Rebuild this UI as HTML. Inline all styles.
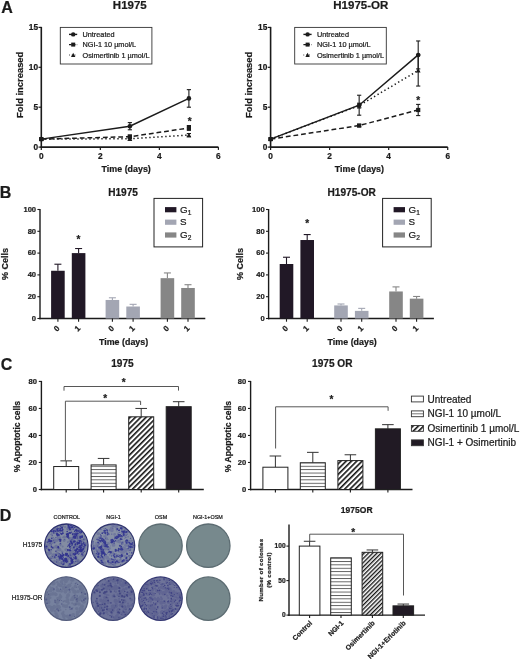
<!DOCTYPE html>
<html><head><meta charset="utf-8"><title>Figure</title>
<style>html,body{margin:0;padding:0;background:#fff;width:520px;height:659px;overflow:hidden}svg{display:block}text{font-family:'Liberation Sans',Arial,sans-serif;stroke:#1b1b1b;stroke-width:0.22px}</style>
</head><body>
<svg width="520" height="659" viewBox="0 0 520 659" style="font-family:'Liberation Sans',Arial,sans-serif"><defs><pattern id="hs" width="4" height="3.4" patternUnits="userSpaceOnUse"><rect width="4" height="3.4" fill="#fff"/><rect y="0" width="4" height="0.9" fill="#555"/></pattern><pattern id="ds2" width="3.0" height="3.0" patternUnits="userSpaceOnUse" patternTransform="rotate(45)"><rect width="3.0" height="3.0" fill="#fff"/><rect x="0" width="1.35" height="3.0" fill="#151515"/></pattern><pattern id="ds" width="3.75" height="3.75" patternUnits="userSpaceOnUse" patternTransform="rotate(45)"><rect width="3.75" height="3.75" fill="#fff"/><rect x="0" width="1.6" height="3.75" fill="#151515"/></pattern></defs><rect width="520" height="659" fill="#fff"/><text x="1.20" y="12.70" font-size="16" font-weight="bold" text-anchor="start" fill="#1b1b1b">A</text>
<text x="-0.30" y="198.40" font-size="16" font-weight="bold" text-anchor="start" fill="#1b1b1b">B</text>
<text x="0.70" y="369.90" font-size="16" font-weight="bold" text-anchor="start" fill="#1b1b1b">C</text>
<text x="-0.20" y="520.60" font-size="16" font-weight="bold" text-anchor="start" fill="#1b1b1b">D</text>
<line x1="41.30" y1="26.90" x2="41.30" y2="147.90" stroke="#1b1b1b" stroke-width="1.6" stroke-linecap="butt"/>
<line x1="40.50" y1="147.10" x2="218.42" y2="147.10" stroke="#1b1b1b" stroke-width="1.6" stroke-linecap="butt"/>
<line x1="38.50" y1="147.10" x2="41.30" y2="147.10" stroke="#1b1b1b" stroke-width="1.2" stroke-linecap="butt"/>
<text x="38.00" y="150.10" font-size="8.3" font-weight="bold" text-anchor="end" fill="#1b1b1b">0</text>
<line x1="38.50" y1="107.20" x2="41.30" y2="107.20" stroke="#1b1b1b" stroke-width="1.2" stroke-linecap="butt"/>
<text x="38.00" y="110.20" font-size="8.3" font-weight="bold" text-anchor="end" fill="#1b1b1b">5</text>
<line x1="38.50" y1="67.30" x2="41.30" y2="67.30" stroke="#1b1b1b" stroke-width="1.2" stroke-linecap="butt"/>
<text x="38.00" y="70.30" font-size="8.3" font-weight="bold" text-anchor="end" fill="#1b1b1b">10</text>
<line x1="38.50" y1="27.40" x2="41.30" y2="27.40" stroke="#1b1b1b" stroke-width="1.2" stroke-linecap="butt"/>
<text x="38.00" y="30.40" font-size="8.3" font-weight="bold" text-anchor="end" fill="#1b1b1b">15</text>
<line x1="41.30" y1="147.10" x2="41.30" y2="149.90" stroke="#1b1b1b" stroke-width="1.2" stroke-linecap="butt"/>
<text x="41.30" y="158.80" font-size="8.3" font-weight="bold" text-anchor="middle" fill="#1b1b1b">0</text>
<line x1="100.34" y1="147.10" x2="100.34" y2="149.90" stroke="#1b1b1b" stroke-width="1.2" stroke-linecap="butt"/>
<text x="100.34" y="158.80" font-size="8.3" font-weight="bold" text-anchor="middle" fill="#1b1b1b">2</text>
<line x1="159.38" y1="147.10" x2="159.38" y2="149.90" stroke="#1b1b1b" stroke-width="1.2" stroke-linecap="butt"/>
<text x="159.38" y="158.80" font-size="8.3" font-weight="bold" text-anchor="middle" fill="#1b1b1b">4</text>
<line x1="218.42" y1="147.10" x2="218.42" y2="149.90" stroke="#1b1b1b" stroke-width="1.2" stroke-linecap="butt"/>
<text x="218.42" y="158.80" font-size="8.3" font-weight="bold" text-anchor="middle" fill="#1b1b1b">6</text>
<text x="129.80" y="8.80" font-size="11.5" font-weight="bold" text-anchor="middle" fill="#1b1b1b">H1975</text>
<text x="23.20" y="84.80" font-size="9.4" font-weight="bold" text-anchor="middle" fill="#1b1b1b" transform="rotate(-90 23.20 84.80)">Fold increased</text>
<text x="126.20" y="172.30" font-size="8.9" font-weight="bold" text-anchor="middle" fill="#1b1b1b">Time (days)</text>
<polyline points="41.30,139.12 129.86,138.72 188.90,135.13" fill="none" stroke="#1b1b1b" stroke-width="1.5" stroke-dasharray="1.4 2.6"/>
<line x1="129.86" y1="137.12" x2="129.86" y2="140.32" stroke="#1b1b1b" stroke-width="1.1" stroke-linecap="butt"/>
<line x1="127.76" y1="137.12" x2="131.96" y2="137.12" stroke="#1b1b1b" stroke-width="1.1" stroke-linecap="butt"/>
<line x1="127.76" y1="140.32" x2="131.96" y2="140.32" stroke="#1b1b1b" stroke-width="1.1" stroke-linecap="butt"/>
<line x1="188.90" y1="133.53" x2="188.90" y2="136.73" stroke="#1b1b1b" stroke-width="1.1" stroke-linecap="butt"/>
<line x1="186.80" y1="133.53" x2="191.00" y2="133.53" stroke="#1b1b1b" stroke-width="1.1" stroke-linecap="butt"/>
<line x1="186.80" y1="136.73" x2="191.00" y2="136.73" stroke="#1b1b1b" stroke-width="1.1" stroke-linecap="butt"/>
<polygon points="38.90,141.12 43.70,141.12 41.30,136.72" fill="#1b1b1b"/>
<polygon points="127.46,140.72 132.26,140.72 129.86,136.32" fill="#1b1b1b"/>
<polygon points="186.50,137.13 191.30,137.13 188.90,132.73" fill="#1b1b1b"/>
<polyline points="41.30,139.12 129.86,136.73 188.90,127.95" fill="none" stroke="#1b1b1b" stroke-width="1.5" stroke-dasharray="4.8 2.9"/>
<line x1="129.86" y1="134.97" x2="129.86" y2="138.48" stroke="#1b1b1b" stroke-width="1.1" stroke-linecap="butt"/>
<line x1="127.76" y1="134.97" x2="131.96" y2="134.97" stroke="#1b1b1b" stroke-width="1.1" stroke-linecap="butt"/>
<line x1="127.76" y1="138.48" x2="131.96" y2="138.48" stroke="#1b1b1b" stroke-width="1.1" stroke-linecap="butt"/>
<line x1="188.90" y1="125.55" x2="188.90" y2="130.34" stroke="#1b1b1b" stroke-width="1.1" stroke-linecap="butt"/>
<line x1="186.80" y1="125.55" x2="191.00" y2="125.55" stroke="#1b1b1b" stroke-width="1.1" stroke-linecap="butt"/>
<line x1="186.80" y1="130.34" x2="191.00" y2="130.34" stroke="#1b1b1b" stroke-width="1.1" stroke-linecap="butt"/>
<rect x="39.20" y="137.02" width="4.20" height="4.20" fill="#1b1b1b" stroke="none" stroke-width="1"/>
<rect x="127.76" y="134.63" width="4.20" height="4.20" fill="#1b1b1b" stroke="none" stroke-width="1"/>
<rect x="186.80" y="125.85" width="4.20" height="4.20" fill="#1b1b1b" stroke="none" stroke-width="1"/>
<polyline points="41.30,139.12 129.86,126.19 188.90,98.42" fill="none" stroke="#1b1b1b" stroke-width="1.5"/>
<line x1="41.30" y1="137.92" x2="41.30" y2="140.32" stroke="#1b1b1b" stroke-width="1.1" stroke-linecap="butt"/>
<line x1="39.20" y1="137.92" x2="43.40" y2="137.92" stroke="#1b1b1b" stroke-width="1.1" stroke-linecap="butt"/>
<line x1="39.20" y1="140.32" x2="43.40" y2="140.32" stroke="#1b1b1b" stroke-width="1.1" stroke-linecap="butt"/>
<line x1="129.86" y1="122.60" x2="129.86" y2="129.78" stroke="#1b1b1b" stroke-width="1.1" stroke-linecap="butt"/>
<line x1="127.76" y1="122.60" x2="131.96" y2="122.60" stroke="#1b1b1b" stroke-width="1.1" stroke-linecap="butt"/>
<line x1="127.76" y1="129.78" x2="131.96" y2="129.78" stroke="#1b1b1b" stroke-width="1.1" stroke-linecap="butt"/>
<line x1="188.90" y1="89.64" x2="188.90" y2="107.20" stroke="#1b1b1b" stroke-width="1.1" stroke-linecap="butt"/>
<line x1="186.80" y1="89.64" x2="191.00" y2="89.64" stroke="#1b1b1b" stroke-width="1.1" stroke-linecap="butt"/>
<line x1="186.80" y1="107.20" x2="191.00" y2="107.20" stroke="#1b1b1b" stroke-width="1.1" stroke-linecap="butt"/>
<circle cx="41.30" cy="139.12" r="2.3" fill="#1b1b1b"/>
<circle cx="129.86" cy="126.19" r="2.3" fill="#1b1b1b"/>
<circle cx="188.90" cy="98.42" r="2.3" fill="#1b1b1b"/>
<text x="189.60" y="125.20" font-size="10" font-weight="bold" text-anchor="middle" fill="#1b1b1b">*</text>
<rect x="60.30" y="27.40" width="91.60" height="36.60" fill="none" stroke="#333" stroke-width="0.9"/>
<line x1="69.00" y1="34.40" x2="77.20" y2="34.40" stroke="#1b1b1b" stroke-width="1.4" stroke-linecap="butt"/>
<circle cx="73.20" cy="34.40" r="2.2" fill="#1b1b1b"/>
<text x="82.50" y="37.00" font-size="7.3" text-anchor="start" fill="#1b1b1b">Untreated</text>
<line x1="69.00" y1="44.60" x2="77.20" y2="44.60" stroke="#1b1b1b" stroke-width="1.4" stroke-dasharray="2.6 1.3" stroke-linecap="butt"/>
<rect x="71.20" y="42.60" width="4.00" height="4.00" fill="#1b1b1b" stroke="none" stroke-width="1"/>
<text x="82.50" y="47.20" font-size="7.3" text-anchor="start" fill="#1b1b1b">NGI-1 10 µmol/L</text>
<line x1="69.00" y1="55.00" x2="77.20" y2="55.00" stroke="#1b1b1b" stroke-width="1.0" stroke-dasharray="0.8 2" stroke-linecap="butt"/>
<polygon points="71.00,56.90 75.40,56.90 73.20,52.80" fill="#1b1b1b"/>
<text x="82.50" y="57.60" font-size="7.3" text-anchor="start" fill="#1b1b1b">Osimertinib 1 µmol/L</text>
<line x1="270.60" y1="26.90" x2="270.60" y2="147.90" stroke="#1b1b1b" stroke-width="1.6" stroke-linecap="butt"/>
<line x1="269.80" y1="147.10" x2="447.72" y2="147.10" stroke="#1b1b1b" stroke-width="1.6" stroke-linecap="butt"/>
<line x1="267.80" y1="147.10" x2="270.60" y2="147.10" stroke="#1b1b1b" stroke-width="1.2" stroke-linecap="butt"/>
<text x="267.30" y="150.10" font-size="8.3" font-weight="bold" text-anchor="end" fill="#1b1b1b">0</text>
<line x1="267.80" y1="107.20" x2="270.60" y2="107.20" stroke="#1b1b1b" stroke-width="1.2" stroke-linecap="butt"/>
<text x="267.30" y="110.20" font-size="8.3" font-weight="bold" text-anchor="end" fill="#1b1b1b">5</text>
<line x1="267.80" y1="67.30" x2="270.60" y2="67.30" stroke="#1b1b1b" stroke-width="1.2" stroke-linecap="butt"/>
<text x="267.30" y="70.30" font-size="8.3" font-weight="bold" text-anchor="end" fill="#1b1b1b">10</text>
<line x1="267.80" y1="27.40" x2="270.60" y2="27.40" stroke="#1b1b1b" stroke-width="1.2" stroke-linecap="butt"/>
<text x="267.30" y="30.40" font-size="8.3" font-weight="bold" text-anchor="end" fill="#1b1b1b">15</text>
<line x1="270.60" y1="147.10" x2="270.60" y2="149.90" stroke="#1b1b1b" stroke-width="1.2" stroke-linecap="butt"/>
<text x="270.60" y="158.80" font-size="8.3" font-weight="bold" text-anchor="middle" fill="#1b1b1b">0</text>
<line x1="329.64" y1="147.10" x2="329.64" y2="149.90" stroke="#1b1b1b" stroke-width="1.2" stroke-linecap="butt"/>
<text x="329.64" y="158.80" font-size="8.3" font-weight="bold" text-anchor="middle" fill="#1b1b1b">2</text>
<line x1="388.68" y1="147.10" x2="388.68" y2="149.90" stroke="#1b1b1b" stroke-width="1.2" stroke-linecap="butt"/>
<text x="388.68" y="158.80" font-size="8.3" font-weight="bold" text-anchor="middle" fill="#1b1b1b">4</text>
<line x1="447.72" y1="147.10" x2="447.72" y2="149.90" stroke="#1b1b1b" stroke-width="1.2" stroke-linecap="butt"/>
<text x="447.72" y="158.80" font-size="8.3" font-weight="bold" text-anchor="middle" fill="#1b1b1b">6</text>
<text x="360.80" y="8.80" font-size="11.5" font-weight="bold" text-anchor="middle" fill="#1b1b1b">H1975-OR</text>
<text x="252.10" y="84.80" font-size="9.4" font-weight="bold" text-anchor="middle" fill="#1b1b1b" transform="rotate(-90 252.10 84.80)">Fold increased</text>
<text x="359.40" y="172.30" font-size="8.9" font-weight="bold" text-anchor="middle" fill="#1b1b1b">Time (days)</text>
<polyline points="270.60,139.12 359.16,105.60 418.20,70.49" fill="none" stroke="#1b1b1b" stroke-width="1.5" stroke-dasharray="1.4 2.6"/>
<line x1="359.16" y1="103.21" x2="359.16" y2="108.00" stroke="#1b1b1b" stroke-width="1.1" stroke-linecap="butt"/>
<line x1="357.06" y1="103.21" x2="361.26" y2="103.21" stroke="#1b1b1b" stroke-width="1.1" stroke-linecap="butt"/>
<line x1="357.06" y1="108.00" x2="361.26" y2="108.00" stroke="#1b1b1b" stroke-width="1.1" stroke-linecap="butt"/>
<line x1="418.20" y1="54.93" x2="418.20" y2="86.05" stroke="#1b1b1b" stroke-width="1.1" stroke-linecap="butt"/>
<line x1="416.10" y1="54.93" x2="420.30" y2="54.93" stroke="#1b1b1b" stroke-width="1.1" stroke-linecap="butt"/>
<line x1="416.10" y1="86.05" x2="420.30" y2="86.05" stroke="#1b1b1b" stroke-width="1.1" stroke-linecap="butt"/>
<polygon points="268.20,141.12 273.00,141.12 270.60,136.72" fill="#1b1b1b"/>
<polygon points="356.76,107.60 361.56,107.60 359.16,103.20" fill="#1b1b1b"/>
<polygon points="415.80,72.49 420.60,72.49 418.20,68.09" fill="#1b1b1b"/>
<polyline points="270.60,139.12 359.16,125.55 418.20,109.99" fill="none" stroke="#1b1b1b" stroke-width="1.5" stroke-dasharray="4.8 2.9"/>
<line x1="359.16" y1="124.36" x2="359.16" y2="126.75" stroke="#1b1b1b" stroke-width="1.1" stroke-linecap="butt"/>
<line x1="357.06" y1="124.36" x2="361.26" y2="124.36" stroke="#1b1b1b" stroke-width="1.1" stroke-linecap="butt"/>
<line x1="357.06" y1="126.75" x2="361.26" y2="126.75" stroke="#1b1b1b" stroke-width="1.1" stroke-linecap="butt"/>
<line x1="418.20" y1="104.41" x2="418.20" y2="115.58" stroke="#1b1b1b" stroke-width="1.1" stroke-linecap="butt"/>
<line x1="416.10" y1="104.41" x2="420.30" y2="104.41" stroke="#1b1b1b" stroke-width="1.1" stroke-linecap="butt"/>
<line x1="416.10" y1="115.58" x2="420.30" y2="115.58" stroke="#1b1b1b" stroke-width="1.1" stroke-linecap="butt"/>
<rect x="268.50" y="137.02" width="4.20" height="4.20" fill="#1b1b1b" stroke="none" stroke-width="1"/>
<rect x="357.06" y="123.45" width="4.20" height="4.20" fill="#1b1b1b" stroke="none" stroke-width="1"/>
<rect x="416.10" y="107.89" width="4.20" height="4.20" fill="#1b1b1b" stroke="none" stroke-width="1"/>
<polyline points="270.60,139.12 359.16,105.20 418.20,54.93" fill="none" stroke="#1b1b1b" stroke-width="1.5"/>
<line x1="270.60" y1="137.92" x2="270.60" y2="140.32" stroke="#1b1b1b" stroke-width="1.1" stroke-linecap="butt"/>
<line x1="268.50" y1="137.92" x2="272.70" y2="137.92" stroke="#1b1b1b" stroke-width="1.1" stroke-linecap="butt"/>
<line x1="268.50" y1="140.32" x2="272.70" y2="140.32" stroke="#1b1b1b" stroke-width="1.1" stroke-linecap="butt"/>
<line x1="359.16" y1="95.23" x2="359.16" y2="115.18" stroke="#1b1b1b" stroke-width="1.1" stroke-linecap="butt"/>
<line x1="357.06" y1="95.23" x2="361.26" y2="95.23" stroke="#1b1b1b" stroke-width="1.1" stroke-linecap="butt"/>
<line x1="357.06" y1="115.18" x2="361.26" y2="115.18" stroke="#1b1b1b" stroke-width="1.1" stroke-linecap="butt"/>
<line x1="418.20" y1="40.97" x2="418.20" y2="68.90" stroke="#1b1b1b" stroke-width="1.1" stroke-linecap="butt"/>
<line x1="416.10" y1="40.97" x2="420.30" y2="40.97" stroke="#1b1b1b" stroke-width="1.1" stroke-linecap="butt"/>
<line x1="416.10" y1="68.90" x2="420.30" y2="68.90" stroke="#1b1b1b" stroke-width="1.1" stroke-linecap="butt"/>
<circle cx="270.60" cy="139.12" r="2.3" fill="#1b1b1b"/>
<circle cx="359.16" cy="105.20" r="2.3" fill="#1b1b1b"/>
<circle cx="418.20" cy="54.93" r="2.3" fill="#1b1b1b"/>
<text x="418.30" y="103.90" font-size="10" font-weight="bold" text-anchor="middle" fill="#1b1b1b">*</text>
<rect x="294.70" y="27.40" width="91.60" height="36.60" fill="none" stroke="#333" stroke-width="0.9"/>
<line x1="303.40" y1="34.40" x2="311.60" y2="34.40" stroke="#1b1b1b" stroke-width="1.4" stroke-linecap="butt"/>
<circle cx="307.60" cy="34.40" r="2.2" fill="#1b1b1b"/>
<text x="316.90" y="37.00" font-size="7.3" text-anchor="start" fill="#1b1b1b">Untreated</text>
<line x1="303.40" y1="44.60" x2="311.60" y2="44.60" stroke="#1b1b1b" stroke-width="1.4" stroke-dasharray="2.6 1.3" stroke-linecap="butt"/>
<rect x="305.60" y="42.60" width="4.00" height="4.00" fill="#1b1b1b" stroke="none" stroke-width="1"/>
<text x="316.90" y="47.20" font-size="7.3" text-anchor="start" fill="#1b1b1b">NGI-1 10 µmol/L</text>
<line x1="303.40" y1="55.00" x2="311.60" y2="55.00" stroke="#1b1b1b" stroke-width="1.0" stroke-dasharray="0.8 2" stroke-linecap="butt"/>
<polygon points="305.40,56.90 309.80,56.90 307.60,52.80" fill="#1b1b1b"/>
<text x="316.90" y="57.60" font-size="7.3" text-anchor="start" fill="#1b1b1b">Osimertinib 1 µmol/L</text>
<line x1="40.00" y1="209.00" x2="40.00" y2="319.30" stroke="#1b1b1b" stroke-width="1.4" stroke-linecap="butt"/>
<line x1="39.30" y1="318.50" x2="205.30" y2="318.50" stroke="#1b1b1b" stroke-width="1.4" stroke-linecap="butt"/>
<line x1="37.40" y1="318.50" x2="40.00" y2="318.50" stroke="#1b1b1b" stroke-width="1.1" stroke-linecap="butt"/>
<text x="36.10" y="320.70" font-size="7.6" font-weight="bold" text-anchor="end" fill="#1b1b1b">0</text>
<line x1="37.40" y1="296.70" x2="40.00" y2="296.70" stroke="#1b1b1b" stroke-width="1.1" stroke-linecap="butt"/>
<text x="36.10" y="298.90" font-size="7.6" font-weight="bold" text-anchor="end" fill="#1b1b1b">20</text>
<line x1="37.40" y1="274.90" x2="40.00" y2="274.90" stroke="#1b1b1b" stroke-width="1.1" stroke-linecap="butt"/>
<text x="36.10" y="277.10" font-size="7.6" font-weight="bold" text-anchor="end" fill="#1b1b1b">40</text>
<line x1="37.40" y1="253.10" x2="40.00" y2="253.10" stroke="#1b1b1b" stroke-width="1.1" stroke-linecap="butt"/>
<text x="36.10" y="255.30" font-size="7.6" font-weight="bold" text-anchor="end" fill="#1b1b1b">60</text>
<line x1="37.40" y1="231.30" x2="40.00" y2="231.30" stroke="#1b1b1b" stroke-width="1.1" stroke-linecap="butt"/>
<text x="36.10" y="233.50" font-size="7.6" font-weight="bold" text-anchor="end" fill="#1b1b1b">80</text>
<line x1="37.40" y1="209.50" x2="40.00" y2="209.50" stroke="#1b1b1b" stroke-width="1.1" stroke-linecap="butt"/>
<text x="36.10" y="211.70" font-size="7.6" font-weight="bold" text-anchor="end" fill="#1b1b1b">100</text>
<line x1="57.90" y1="270.76" x2="57.90" y2="264.22" stroke="#211826" stroke-width="1.1" stroke-linecap="butt"/>
<line x1="54.40" y1="264.22" x2="61.40" y2="264.22" stroke="#211826" stroke-width="1.1" stroke-linecap="butt"/>
<rect x="51.10" y="270.76" width="13.60" height="47.74" fill="#211826" stroke="none" stroke-width="1"/>
<line x1="57.90" y1="318.50" x2="57.90" y2="321.70" stroke="#1b1b1b" stroke-width="1.1" stroke-linecap="butt"/>
<text x="58.60" y="330.40" font-size="8" font-weight="bold" text-anchor="middle" fill="#1b1b1b" transform="rotate(-45 58.60 330.40)">0</text>
<line x1="78.60" y1="253.10" x2="78.60" y2="248.52" stroke="#211826" stroke-width="1.1" stroke-linecap="butt"/>
<line x1="75.10" y1="248.52" x2="82.10" y2="248.52" stroke="#211826" stroke-width="1.1" stroke-linecap="butt"/>
<rect x="71.80" y="253.10" width="13.60" height="65.40" fill="#211826" stroke="none" stroke-width="1"/>
<line x1="78.60" y1="318.50" x2="78.60" y2="321.70" stroke="#1b1b1b" stroke-width="1.1" stroke-linecap="butt"/>
<text x="79.30" y="330.40" font-size="8" font-weight="bold" text-anchor="middle" fill="#1b1b1b" transform="rotate(-45 79.30 330.40)">1</text>
<line x1="112.40" y1="299.97" x2="112.40" y2="297.79" stroke="#a3a6b3" stroke-width="1.1" stroke-linecap="butt"/>
<line x1="108.90" y1="297.79" x2="115.90" y2="297.79" stroke="#a3a6b3" stroke-width="1.1" stroke-linecap="butt"/>
<rect x="105.60" y="299.97" width="13.60" height="18.53" fill="#a3a6b3" stroke="none" stroke-width="1"/>
<line x1="112.40" y1="318.50" x2="112.40" y2="321.70" stroke="#1b1b1b" stroke-width="1.1" stroke-linecap="butt"/>
<text x="113.10" y="330.40" font-size="8" font-weight="bold" text-anchor="middle" fill="#1b1b1b" transform="rotate(-45 113.10 330.40)">0</text>
<line x1="133.10" y1="306.51" x2="133.10" y2="304.33" stroke="#a3a6b3" stroke-width="1.1" stroke-linecap="butt"/>
<line x1="129.60" y1="304.33" x2="136.60" y2="304.33" stroke="#a3a6b3" stroke-width="1.1" stroke-linecap="butt"/>
<rect x="126.30" y="306.51" width="13.60" height="11.99" fill="#a3a6b3" stroke="none" stroke-width="1"/>
<line x1="133.10" y1="318.50" x2="133.10" y2="321.70" stroke="#1b1b1b" stroke-width="1.1" stroke-linecap="butt"/>
<text x="133.80" y="330.40" font-size="8" font-weight="bold" text-anchor="middle" fill="#1b1b1b" transform="rotate(-45 133.80 330.40)">1</text>
<line x1="167.40" y1="278.17" x2="167.40" y2="272.94" stroke="#868686" stroke-width="1.1" stroke-linecap="butt"/>
<line x1="163.90" y1="272.94" x2="170.90" y2="272.94" stroke="#868686" stroke-width="1.1" stroke-linecap="butt"/>
<rect x="160.60" y="278.17" width="13.60" height="40.33" fill="#868686" stroke="none" stroke-width="1"/>
<line x1="167.40" y1="318.50" x2="167.40" y2="321.70" stroke="#1b1b1b" stroke-width="1.1" stroke-linecap="butt"/>
<text x="168.10" y="330.40" font-size="8" font-weight="bold" text-anchor="middle" fill="#1b1b1b" transform="rotate(-45 168.10 330.40)">0</text>
<line x1="188.00" y1="287.98" x2="188.00" y2="284.71" stroke="#868686" stroke-width="1.1" stroke-linecap="butt"/>
<line x1="184.50" y1="284.71" x2="191.50" y2="284.71" stroke="#868686" stroke-width="1.1" stroke-linecap="butt"/>
<rect x="181.20" y="287.98" width="13.60" height="30.52" fill="#868686" stroke="none" stroke-width="1"/>
<line x1="188.00" y1="318.50" x2="188.00" y2="321.70" stroke="#1b1b1b" stroke-width="1.1" stroke-linecap="butt"/>
<text x="188.70" y="330.40" font-size="8" font-weight="bold" text-anchor="middle" fill="#1b1b1b" transform="rotate(-45 188.70 330.40)">1</text>
<text x="78.50" y="242.90" font-size="10" font-weight="bold" text-anchor="middle" fill="#1b1b1b">*</text>
<text x="123.00" y="195.60" font-size="10.1" font-weight="bold" text-anchor="middle" fill="#1b1b1b">H1975</text>
<text x="123.60" y="344.60" font-size="8.9" font-weight="bold" text-anchor="middle" fill="#1b1b1b">Time (days)</text>
<rect x="154.00" y="198.40" width="48.60" height="48.50" fill="none" stroke="#222" stroke-width="1.0"/>
<rect x="165.00" y="207.10" width="11.40" height="5.20" fill="#211826" stroke="none" stroke-width="1"/>
<text x="180.00" y="212.70" font-size="9.8" fill="#1b1b1b">G<tspan font-size="6.6" dy="2.2">1</tspan></text>
<rect x="165.00" y="219.60" width="11.40" height="5.20" fill="#a3a6b3" stroke="none" stroke-width="1"/>
<text x="180.00" y="225.20" font-size="9.8" text-anchor="start" fill="#1b1b1b">S</text>
<rect x="165.00" y="232.40" width="11.40" height="5.20" fill="#868686" stroke="none" stroke-width="1"/>
<text x="180.00" y="238.00" font-size="9.8" fill="#1b1b1b">G<tspan font-size="6.6" dy="2.2">2</tspan></text>
<line x1="268.60" y1="209.00" x2="268.60" y2="319.30" stroke="#1b1b1b" stroke-width="1.4" stroke-linecap="butt"/>
<line x1="267.90" y1="318.50" x2="433.90" y2="318.50" stroke="#1b1b1b" stroke-width="1.4" stroke-linecap="butt"/>
<line x1="266.00" y1="318.50" x2="268.60" y2="318.50" stroke="#1b1b1b" stroke-width="1.1" stroke-linecap="butt"/>
<text x="264.70" y="320.70" font-size="7.6" font-weight="bold" text-anchor="end" fill="#1b1b1b">0</text>
<line x1="266.00" y1="296.70" x2="268.60" y2="296.70" stroke="#1b1b1b" stroke-width="1.1" stroke-linecap="butt"/>
<text x="264.70" y="298.90" font-size="7.6" font-weight="bold" text-anchor="end" fill="#1b1b1b">20</text>
<line x1="266.00" y1="274.90" x2="268.60" y2="274.90" stroke="#1b1b1b" stroke-width="1.1" stroke-linecap="butt"/>
<text x="264.70" y="277.10" font-size="7.6" font-weight="bold" text-anchor="end" fill="#1b1b1b">40</text>
<line x1="266.00" y1="253.10" x2="268.60" y2="253.10" stroke="#1b1b1b" stroke-width="1.1" stroke-linecap="butt"/>
<text x="264.70" y="255.30" font-size="7.6" font-weight="bold" text-anchor="end" fill="#1b1b1b">60</text>
<line x1="266.00" y1="231.30" x2="268.60" y2="231.30" stroke="#1b1b1b" stroke-width="1.1" stroke-linecap="butt"/>
<text x="264.70" y="233.50" font-size="7.6" font-weight="bold" text-anchor="end" fill="#1b1b1b">80</text>
<line x1="266.00" y1="209.50" x2="268.60" y2="209.50" stroke="#1b1b1b" stroke-width="1.1" stroke-linecap="butt"/>
<text x="264.70" y="211.70" font-size="7.6" font-weight="bold" text-anchor="end" fill="#1b1b1b">100</text>
<line x1="286.50" y1="264.00" x2="286.50" y2="257.24" stroke="#211826" stroke-width="1.1" stroke-linecap="butt"/>
<line x1="283.00" y1="257.24" x2="290.00" y2="257.24" stroke="#211826" stroke-width="1.1" stroke-linecap="butt"/>
<rect x="279.70" y="264.00" width="13.60" height="54.50" fill="#211826" stroke="none" stroke-width="1"/>
<line x1="286.50" y1="318.50" x2="286.50" y2="321.70" stroke="#1b1b1b" stroke-width="1.1" stroke-linecap="butt"/>
<text x="287.20" y="330.40" font-size="8" font-weight="bold" text-anchor="middle" fill="#1b1b1b" transform="rotate(-45 287.20 330.40)">0</text>
<line x1="307.20" y1="240.02" x2="307.20" y2="234.57" stroke="#211826" stroke-width="1.1" stroke-linecap="butt"/>
<line x1="303.70" y1="234.57" x2="310.70" y2="234.57" stroke="#211826" stroke-width="1.1" stroke-linecap="butt"/>
<rect x="300.40" y="240.02" width="13.60" height="78.48" fill="#211826" stroke="none" stroke-width="1"/>
<line x1="307.20" y1="318.50" x2="307.20" y2="321.70" stroke="#1b1b1b" stroke-width="1.1" stroke-linecap="butt"/>
<text x="307.90" y="330.40" font-size="8" font-weight="bold" text-anchor="middle" fill="#1b1b1b" transform="rotate(-45 307.90 330.40)">1</text>
<line x1="341.00" y1="305.42" x2="341.00" y2="304.00" stroke="#a3a6b3" stroke-width="1.1" stroke-linecap="butt"/>
<line x1="337.50" y1="304.00" x2="344.50" y2="304.00" stroke="#a3a6b3" stroke-width="1.1" stroke-linecap="butt"/>
<rect x="334.20" y="305.42" width="13.60" height="13.08" fill="#a3a6b3" stroke="none" stroke-width="1"/>
<line x1="341.00" y1="318.50" x2="341.00" y2="321.70" stroke="#1b1b1b" stroke-width="1.1" stroke-linecap="butt"/>
<text x="341.70" y="330.40" font-size="8" font-weight="bold" text-anchor="middle" fill="#1b1b1b" transform="rotate(-45 341.70 330.40)">0</text>
<line x1="361.70" y1="310.87" x2="361.70" y2="308.36" stroke="#a3a6b3" stroke-width="1.1" stroke-linecap="butt"/>
<line x1="358.20" y1="308.36" x2="365.20" y2="308.36" stroke="#a3a6b3" stroke-width="1.1" stroke-linecap="butt"/>
<rect x="354.90" y="310.87" width="13.60" height="7.63" fill="#a3a6b3" stroke="none" stroke-width="1"/>
<line x1="361.70" y1="318.50" x2="361.70" y2="321.70" stroke="#1b1b1b" stroke-width="1.1" stroke-linecap="butt"/>
<text x="362.40" y="330.40" font-size="8" font-weight="bold" text-anchor="middle" fill="#1b1b1b" transform="rotate(-45 362.40 330.40)">1</text>
<line x1="396.00" y1="291.47" x2="396.00" y2="286.89" stroke="#868686" stroke-width="1.1" stroke-linecap="butt"/>
<line x1="392.50" y1="286.89" x2="399.50" y2="286.89" stroke="#868686" stroke-width="1.1" stroke-linecap="butt"/>
<rect x="389.20" y="291.47" width="13.60" height="27.03" fill="#868686" stroke="none" stroke-width="1"/>
<line x1="396.00" y1="318.50" x2="396.00" y2="321.70" stroke="#1b1b1b" stroke-width="1.1" stroke-linecap="butt"/>
<text x="396.70" y="330.40" font-size="8" font-weight="bold" text-anchor="middle" fill="#1b1b1b" transform="rotate(-45 396.70 330.40)">0</text>
<line x1="416.60" y1="298.66" x2="416.60" y2="296.48" stroke="#868686" stroke-width="1.1" stroke-linecap="butt"/>
<line x1="413.10" y1="296.48" x2="420.10" y2="296.48" stroke="#868686" stroke-width="1.1" stroke-linecap="butt"/>
<rect x="409.80" y="298.66" width="13.60" height="19.84" fill="#868686" stroke="none" stroke-width="1"/>
<line x1="416.60" y1="318.50" x2="416.60" y2="321.70" stroke="#1b1b1b" stroke-width="1.1" stroke-linecap="butt"/>
<text x="417.30" y="330.40" font-size="8" font-weight="bold" text-anchor="middle" fill="#1b1b1b" transform="rotate(-45 417.30 330.40)">1</text>
<text x="307.10" y="227.00" font-size="10" font-weight="bold" text-anchor="middle" fill="#1b1b1b">*</text>
<text x="351.70" y="195.60" font-size="10.1" font-weight="bold" text-anchor="middle" fill="#1b1b1b">H1975-OR</text>
<text x="352.20" y="344.60" font-size="8.9" font-weight="bold" text-anchor="middle" fill="#1b1b1b">Time (days)</text>
<rect x="382.60" y="198.40" width="48.60" height="48.50" fill="none" stroke="#222" stroke-width="1.0"/>
<rect x="393.60" y="207.10" width="11.40" height="5.20" fill="#211826" stroke="none" stroke-width="1"/>
<text x="408.60" y="212.70" font-size="9.8" fill="#1b1b1b">G<tspan font-size="6.6" dy="2.2">1</tspan></text>
<rect x="393.60" y="219.60" width="11.40" height="5.20" fill="#a3a6b3" stroke="none" stroke-width="1"/>
<text x="408.60" y="225.20" font-size="9.8" text-anchor="start" fill="#1b1b1b">S</text>
<rect x="393.60" y="232.40" width="11.40" height="5.20" fill="#868686" stroke="none" stroke-width="1"/>
<text x="408.60" y="238.00" font-size="9.8" fill="#1b1b1b">G<tspan font-size="6.6" dy="2.2">2</tspan></text>
<text x="7.60" y="264.00" font-size="9" font-weight="bold" text-anchor="middle" fill="#1b1b1b" transform="rotate(-90 7.60 264.00)">% Cells</text>
<text x="243.20" y="264.00" font-size="9" font-weight="bold" text-anchor="middle" fill="#1b1b1b" transform="rotate(-90 243.20 264.00)">% Cells</text>
<line x1="41.40" y1="380.92" x2="41.40" y2="490.30" stroke="#1b1b1b" stroke-width="1.4" stroke-linecap="butt"/>
<line x1="40.70" y1="489.50" x2="203.80" y2="489.50" stroke="#1b1b1b" stroke-width="1.4" stroke-linecap="butt"/>
<line x1="38.80" y1="489.50" x2="41.40" y2="489.50" stroke="#1b1b1b" stroke-width="1.1" stroke-linecap="butt"/>
<text x="37.00" y="492.10" font-size="7.6" font-weight="bold" text-anchor="end" fill="#1b1b1b">0</text>
<line x1="38.80" y1="462.48" x2="41.40" y2="462.48" stroke="#1b1b1b" stroke-width="1.1" stroke-linecap="butt"/>
<text x="37.00" y="465.08" font-size="7.6" font-weight="bold" text-anchor="end" fill="#1b1b1b">20</text>
<line x1="38.80" y1="435.46" x2="41.40" y2="435.46" stroke="#1b1b1b" stroke-width="1.1" stroke-linecap="butt"/>
<text x="37.00" y="438.06" font-size="7.6" font-weight="bold" text-anchor="end" fill="#1b1b1b">40</text>
<line x1="38.80" y1="408.44" x2="41.40" y2="408.44" stroke="#1b1b1b" stroke-width="1.1" stroke-linecap="butt"/>
<text x="37.00" y="411.04" font-size="7.6" font-weight="bold" text-anchor="end" fill="#1b1b1b">60</text>
<line x1="38.80" y1="381.42" x2="41.40" y2="381.42" stroke="#1b1b1b" stroke-width="1.1" stroke-linecap="butt"/>
<text x="37.00" y="384.02" font-size="7.6" font-weight="bold" text-anchor="end" fill="#1b1b1b">80</text>
<line x1="66.20" y1="466.53" x2="66.20" y2="460.86" stroke="#333" stroke-width="1.0" stroke-linecap="butt"/>
<line x1="60.40" y1="460.86" x2="72.00" y2="460.86" stroke="#333" stroke-width="1.0" stroke-linecap="butt"/>
<rect x="53.70" y="466.53" width="25.00" height="22.97" fill="#fff" stroke="#222" stroke-width="1.0"/>
<line x1="66.20" y1="489.50" x2="66.20" y2="492.50" stroke="#1b1b1b" stroke-width="1.1" stroke-linecap="butt"/>
<line x1="103.60" y1="464.91" x2="103.60" y2="458.43" stroke="#333" stroke-width="1.0" stroke-linecap="butt"/>
<line x1="97.80" y1="458.43" x2="109.40" y2="458.43" stroke="#333" stroke-width="1.0" stroke-linecap="butt"/>
<rect x="91.10" y="464.91" width="25.00" height="24.59" fill="url(#hs)" stroke="#222" stroke-width="1.0"/>
<line x1="103.60" y1="489.50" x2="103.60" y2="492.50" stroke="#1b1b1b" stroke-width="1.1" stroke-linecap="butt"/>
<line x1="141.20" y1="416.82" x2="141.20" y2="408.44" stroke="#333" stroke-width="1.0" stroke-linecap="butt"/>
<line x1="135.40" y1="408.44" x2="147.00" y2="408.44" stroke="#333" stroke-width="1.0" stroke-linecap="butt"/>
<rect x="128.70" y="416.82" width="25.00" height="72.68" fill="url(#ds)" stroke="#222" stroke-width="1.0"/>
<line x1="141.20" y1="489.50" x2="141.20" y2="492.50" stroke="#1b1b1b" stroke-width="1.1" stroke-linecap="butt"/>
<line x1="178.70" y1="406.68" x2="178.70" y2="401.69" stroke="#333" stroke-width="1.0" stroke-linecap="butt"/>
<line x1="172.90" y1="401.69" x2="184.50" y2="401.69" stroke="#333" stroke-width="1.0" stroke-linecap="butt"/>
<rect x="166.20" y="406.68" width="25.00" height="82.82" fill="#211a24" stroke="#222" stroke-width="1.0"/>
<line x1="178.70" y1="489.50" x2="178.70" y2="492.50" stroke="#1b1b1b" stroke-width="1.1" stroke-linecap="butt"/>
<text x="122.40" y="367.00" font-size="10.1" font-weight="bold" text-anchor="middle" fill="#1b1b1b">1975</text>
<text x="20.00" y="436.50" font-size="8.6" font-weight="bold" text-anchor="middle" fill="#1b1b1b" transform="rotate(-90 20.00 436.50)">% Apoptotic cells</text>
<line x1="250.60" y1="380.92" x2="250.60" y2="490.30" stroke="#1b1b1b" stroke-width="1.4" stroke-linecap="butt"/>
<line x1="249.90" y1="489.50" x2="412.50" y2="489.50" stroke="#1b1b1b" stroke-width="1.4" stroke-linecap="butt"/>
<line x1="248.00" y1="489.50" x2="250.60" y2="489.50" stroke="#1b1b1b" stroke-width="1.1" stroke-linecap="butt"/>
<text x="246.20" y="492.10" font-size="7.6" font-weight="bold" text-anchor="end" fill="#1b1b1b">0</text>
<line x1="248.00" y1="462.48" x2="250.60" y2="462.48" stroke="#1b1b1b" stroke-width="1.1" stroke-linecap="butt"/>
<text x="246.20" y="465.08" font-size="7.6" font-weight="bold" text-anchor="end" fill="#1b1b1b">20</text>
<line x1="248.00" y1="435.46" x2="250.60" y2="435.46" stroke="#1b1b1b" stroke-width="1.1" stroke-linecap="butt"/>
<text x="246.20" y="438.06" font-size="7.6" font-weight="bold" text-anchor="end" fill="#1b1b1b">40</text>
<line x1="248.00" y1="408.44" x2="250.60" y2="408.44" stroke="#1b1b1b" stroke-width="1.1" stroke-linecap="butt"/>
<text x="246.20" y="411.04" font-size="7.6" font-weight="bold" text-anchor="end" fill="#1b1b1b">60</text>
<line x1="248.00" y1="381.42" x2="250.60" y2="381.42" stroke="#1b1b1b" stroke-width="1.1" stroke-linecap="butt"/>
<text x="246.20" y="384.02" font-size="7.6" font-weight="bold" text-anchor="end" fill="#1b1b1b">80</text>
<line x1="275.40" y1="467.21" x2="275.40" y2="456.00" stroke="#333" stroke-width="1.0" stroke-linecap="butt"/>
<line x1="269.60" y1="456.00" x2="281.20" y2="456.00" stroke="#333" stroke-width="1.0" stroke-linecap="butt"/>
<rect x="262.90" y="467.21" width="25.00" height="22.29" fill="#fff" stroke="#222" stroke-width="1.0"/>
<line x1="275.40" y1="489.50" x2="275.40" y2="492.50" stroke="#1b1b1b" stroke-width="1.1" stroke-linecap="butt"/>
<line x1="312.80" y1="462.75" x2="312.80" y2="452.35" stroke="#333" stroke-width="1.0" stroke-linecap="butt"/>
<line x1="307.00" y1="452.35" x2="318.60" y2="452.35" stroke="#333" stroke-width="1.0" stroke-linecap="butt"/>
<rect x="300.30" y="462.75" width="25.00" height="26.75" fill="url(#hs)" stroke="#222" stroke-width="1.0"/>
<line x1="312.80" y1="489.50" x2="312.80" y2="492.50" stroke="#1b1b1b" stroke-width="1.1" stroke-linecap="butt"/>
<line x1="350.40" y1="460.59" x2="350.40" y2="454.78" stroke="#333" stroke-width="1.0" stroke-linecap="butt"/>
<line x1="344.60" y1="454.78" x2="356.20" y2="454.78" stroke="#333" stroke-width="1.0" stroke-linecap="butt"/>
<rect x="337.90" y="460.59" width="25.00" height="28.91" fill="url(#ds)" stroke="#222" stroke-width="1.0"/>
<line x1="350.40" y1="489.50" x2="350.40" y2="492.50" stroke="#1b1b1b" stroke-width="1.1" stroke-linecap="butt"/>
<line x1="387.90" y1="428.84" x2="387.90" y2="424.65" stroke="#333" stroke-width="1.0" stroke-linecap="butt"/>
<line x1="382.10" y1="424.65" x2="393.70" y2="424.65" stroke="#333" stroke-width="1.0" stroke-linecap="butt"/>
<rect x="375.40" y="428.84" width="25.00" height="60.66" fill="#211a24" stroke="#222" stroke-width="1.0"/>
<line x1="387.90" y1="489.50" x2="387.90" y2="492.50" stroke="#1b1b1b" stroke-width="1.1" stroke-linecap="butt"/>
<text x="332.30" y="367.00" font-size="10.1" font-weight="bold" text-anchor="middle" fill="#1b1b1b">1975 OR</text>
<text x="230.50" y="436.50" font-size="8.6" font-weight="bold" text-anchor="middle" fill="#1b1b1b" transform="rotate(-90 230.50 436.50)">% Apoptotic cells</text>
<polyline points="64.00,390.70 64.00,386.50 178.50,386.50 178.50,390.60" fill="none" stroke="#444" stroke-width="0.9"/>
<text x="123.80" y="386.30" font-size="10" font-weight="bold" text-anchor="middle" fill="#1b1b1b">*</text>
<polyline points="65.40,460.60 65.40,401.20 140.60,401.20 140.60,405.00" fill="none" stroke="#444" stroke-width="0.9"/>
<text x="105.20" y="402.00" font-size="10" font-weight="bold" text-anchor="middle" fill="#1b1b1b">*</text>
<polyline points="275.60,448.50 275.60,406.80 388.10,406.80 388.10,410.80" fill="none" stroke="#444" stroke-width="0.9"/>
<text x="331.40" y="403.30" font-size="10" font-weight="bold" text-anchor="middle" fill="#1b1b1b">*</text>
<rect x="411.40" y="396.10" width="12.00" height="5.80" fill="#fff" stroke="#333" stroke-width="0.9"/>
<text x="427.50" y="402.50" font-size="10" text-anchor="start" fill="#1b1b1b">Untreated</text>
<rect x="411.40" y="410.90" width="12.00" height="5.80" fill="#fff" stroke="#333" stroke-width="0.9"/>
<line x1="411.40" y1="413.80" x2="423.40" y2="413.80" stroke="#555" stroke-width="0.8" stroke-linecap="butt"/>
<text x="427.50" y="417.30" font-size="10" text-anchor="start" fill="#1b1b1b">NGI-1 10 µmol/L</text>
<rect x="411.40" y="425.50" width="12.00" height="5.80" fill="url(#ds)" stroke="#333" stroke-width="0.9"/>
<text x="427.50" y="431.90" font-size="10" text-anchor="start" fill="#1b1b1b">Osimertinib 1 µmol/L</text>
<rect x="411.40" y="439.90" width="12.00" height="5.80" fill="#211a24" stroke="#333" stroke-width="0.9"/>
<text x="427.50" y="446.30" font-size="10" text-anchor="start" fill="#1b1b1b">NGI-1 + Osimertinib</text>
<text x="66.80" y="519.30" font-size="5.4" text-anchor="middle" fill="#1b1b1b">CONTROL</text>
<text x="113.50" y="519.30" font-size="5.4" text-anchor="middle" fill="#1b1b1b">NGI-1</text>
<text x="161.00" y="519.30" font-size="5.4" text-anchor="middle" fill="#1b1b1b">OSM</text>
<text x="207.90" y="519.30" font-size="5.4" text-anchor="middle" fill="#1b1b1b">NGI-1+OSM</text>
<text x="42.30" y="546.80" font-size="6.6" text-anchor="end" fill="#1b1b1b">H1975</text>
<text x="42.30" y="599.60" font-size="6.4" text-anchor="end" fill="#1b1b1b">H1975-OR</text>
<circle cx="66.30" cy="545.70" r="21.70" fill="#838ca2" stroke="#2a2e6e" stroke-width="1.3"/>
<g fill="#5c6394" opacity="0.55"><circle cx="73.5" cy="555.7" r="1.7"/><circle cx="60.2" cy="544.3" r="1.3"/><circle cx="60.6" cy="545.4" r="0.9"/><circle cx="79.0" cy="551.7" r="0.9"/><circle cx="72.8" cy="533.4" r="1.0"/><circle cx="59.0" cy="538.2" r="2.1"/><circle cx="53.5" cy="555.4" r="2.2"/><circle cx="69.5" cy="541.7" r="1.2"/><circle cx="72.6" cy="551.5" r="1.2"/><circle cx="74.2" cy="562.7" r="1.6"/><circle cx="54.6" cy="557.7" r="1.6"/><circle cx="71.8" cy="547.9" r="1.1"/><circle cx="50.8" cy="553.3" r="1.2"/><circle cx="50.9" cy="550.4" r="1.2"/><circle cx="60.5" cy="528.2" r="1.1"/><circle cx="50.5" cy="543.2" r="2.0"/><circle cx="62.1" cy="563.0" r="2.2"/><circle cx="59.5" cy="549.6" r="1.9"/><circle cx="57.5" cy="546.3" r="0.9"/><circle cx="67.9" cy="528.7" r="1.6"/><circle cx="58.8" cy="563.5" r="1.8"/><circle cx="52.1" cy="537.9" r="1.4"/><circle cx="84.1" cy="539.2" r="1.5"/><circle cx="82.1" cy="552.0" r="1.8"/><circle cx="83.1" cy="545.0" r="2.0"/><circle cx="57.5" cy="553.4" r="1.7"/><circle cx="62.7" cy="546.6" r="1.0"/><circle cx="73.6" cy="548.5" r="1.9"/><circle cx="66.4" cy="553.9" r="1.3"/><circle cx="83.2" cy="555.0" r="1.4"/><circle cx="77.9" cy="535.2" r="1.9"/><circle cx="62.9" cy="564.6" r="1.4"/><circle cx="76.0" cy="537.1" r="2.1"/><circle cx="70.2" cy="553.5" r="1.1"/><circle cx="55.7" cy="546.7" r="1.6"/><circle cx="77.5" cy="546.0" r="1.4"/><circle cx="54.3" cy="540.4" r="2.1"/><circle cx="49.0" cy="544.0" r="1.7"/><circle cx="82.5" cy="551.4" r="2.1"/><circle cx="79.2" cy="532.7" r="1.9"/><circle cx="55.5" cy="553.7" r="0.9"/><circle cx="81.7" cy="552.1" r="0.9"/><circle cx="71.6" cy="554.3" r="1.3"/><circle cx="71.7" cy="545.7" r="1.0"/><circle cx="61.5" cy="551.2" r="0.8"/><circle cx="51.8" cy="533.0" r="1.0"/><circle cx="60.0" cy="554.7" r="1.3"/><circle cx="70.9" cy="539.2" r="2.2"/><circle cx="51.8" cy="547.2" r="0.9"/><circle cx="62.3" cy="551.8" r="1.2"/><circle cx="76.3" cy="561.7" r="0.8"/><circle cx="46.6" cy="542.2" r="1.0"/><circle cx="81.7" cy="548.3" r="1.5"/><circle cx="79.6" cy="530.3" r="1.8"/><circle cx="58.8" cy="554.0" r="1.0"/><circle cx="48.4" cy="542.0" r="1.9"/><circle cx="68.4" cy="558.0" r="1.9"/><circle cx="78.5" cy="529.4" r="1.9"/><circle cx="65.1" cy="527.0" r="1.1"/><circle cx="56.9" cy="557.7" r="0.8"/><circle cx="65.5" cy="549.7" r="1.2"/><circle cx="83.0" cy="541.0" r="1.4"/><circle cx="86.2" cy="544.2" r="2.1"/><circle cx="68.7" cy="558.5" r="1.1"/><circle cx="69.1" cy="555.2" r="1.7"/><circle cx="76.8" cy="529.2" r="1.5"/><circle cx="71.5" cy="529.6" r="0.9"/><circle cx="80.6" cy="536.6" r="1.9"/><circle cx="48.5" cy="548.2" r="1.0"/><circle cx="57.2" cy="561.7" r="1.9"/><circle cx="50.2" cy="558.0" r="1.4"/><circle cx="63.1" cy="525.9" r="1.0"/><circle cx="71.0" cy="552.3" r="2.1"/><circle cx="77.6" cy="560.5" r="2.0"/><circle cx="55.1" cy="528.7" r="1.3"/><circle cx="76.9" cy="557.2" r="0.8"/><circle cx="54.4" cy="529.4" r="1.5"/><circle cx="48.1" cy="553.7" r="2.0"/><circle cx="70.9" cy="564.0" r="1.2"/><circle cx="67.0" cy="557.5" r="1.6"/><circle cx="56.5" cy="551.1" r="1.0"/><circle cx="54.4" cy="561.3" r="1.4"/><circle cx="79.6" cy="536.6" r="1.4"/><circle cx="46.6" cy="545.5" r="1.5"/><circle cx="81.5" cy="547.5" r="1.4"/><circle cx="75.8" cy="545.9" r="1.9"/><circle cx="57.1" cy="547.2" r="1.8"/><circle cx="59.1" cy="559.7" r="1.5"/><circle cx="69.7" cy="530.3" r="0.9"/><circle cx="66.4" cy="561.5" r="1.2"/><circle cx="48.1" cy="544.8" r="1.6"/><circle cx="81.7" cy="536.2" r="1.4"/><circle cx="49.9" cy="545.1" r="1.5"/><circle cx="49.7" cy="550.8" r="1.5"/><circle cx="80.0" cy="540.4" r="1.8"/><circle cx="84.4" cy="538.8" r="1.2"/><circle cx="81.1" cy="540.2" r="2.0"/><circle cx="72.4" cy="551.5" r="1.4"/><circle cx="66.7" cy="552.0" r="0.9"/><circle cx="69.9" cy="529.0" r="2.1"/><circle cx="64.4" cy="537.1" r="1.7"/><circle cx="72.6" cy="540.0" r="2.2"/><circle cx="76.2" cy="542.7" r="1.4"/><circle cx="81.1" cy="544.8" r="2.0"/><circle cx="58.1" cy="549.5" r="1.5"/><circle cx="70.5" cy="557.6" r="1.2"/><circle cx="83.9" cy="547.9" r="1.6"/><circle cx="80.4" cy="547.3" r="1.3"/><circle cx="49.8" cy="544.4" r="0.9"/><circle cx="71.2" cy="525.9" r="2.2"/><circle cx="65.6" cy="553.1" r="0.9"/><circle cx="64.0" cy="563.9" r="1.0"/><circle cx="78.1" cy="538.4" r="1.9"/><circle cx="72.9" cy="554.7" r="2.1"/><circle cx="61.4" cy="530.5" r="0.9"/><circle cx="64.2" cy="540.5" r="1.4"/><circle cx="72.1" cy="543.3" r="1.7"/><circle cx="82.3" cy="555.0" r="2.0"/><circle cx="70.2" cy="541.1" r="1.4"/><circle cx="54.4" cy="541.6" r="2.1"/><circle cx="74.1" cy="553.9" r="1.5"/><circle cx="74.6" cy="552.5" r="1.0"/><circle cx="67.9" cy="550.8" r="1.2"/><circle cx="67.0" cy="533.7" r="1.2"/><circle cx="72.9" cy="559.2" r="1.3"/><circle cx="66.3" cy="549.1" r="0.8"/><circle cx="49.4" cy="540.1" r="1.1"/><circle cx="79.7" cy="539.8" r="0.9"/><circle cx="49.2" cy="553.4" r="1.5"/><circle cx="51.5" cy="557.5" r="1.5"/><circle cx="83.5" cy="543.8" r="1.3"/><circle cx="61.2" cy="527.5" r="1.7"/><circle cx="58.5" cy="556.9" r="0.9"/><circle cx="73.7" cy="549.2" r="1.8"/><circle cx="72.1" cy="555.2" r="0.9"/><circle cx="79.3" cy="531.9" r="1.7"/><circle cx="66.9" cy="557.3" r="1.2"/><circle cx="74.2" cy="557.8" r="1.4"/><circle cx="77.2" cy="543.0" r="2.2"/><circle cx="66.8" cy="561.3" r="2.2"/><circle cx="58.8" cy="555.2" r="0.8"/><circle cx="53.2" cy="547.8" r="1.5"/><circle cx="56.3" cy="545.4" r="0.8"/><circle cx="75.8" cy="551.7" r="1.4"/><circle cx="71.2" cy="546.4" r="1.2"/><circle cx="57.2" cy="540.3" r="1.5"/><circle cx="56.4" cy="530.6" r="1.8"/><circle cx="51.4" cy="558.1" r="1.3"/><circle cx="78.3" cy="562.1" r="1.8"/><circle cx="82.5" cy="550.3" r="2.0"/></g>
<g fill="#28298c" opacity="0.85"><circle cx="53.9" cy="533.0" r="0.8"/><circle cx="54.0" cy="530.8" r="0.9"/><circle cx="51.6" cy="531.2" r="0.9"/><circle cx="53.0" cy="531.6" r="0.5"/><circle cx="53.8" cy="532.8" r="0.5"/><circle cx="53.8" cy="531.2" r="0.8"/><circle cx="59.4" cy="532.1" r="0.5"/><circle cx="61.3" cy="530.4" r="0.5"/><circle cx="58.1" cy="530.9" r="0.7"/><circle cx="60.2" cy="529.5" r="0.6"/><circle cx="59.6" cy="530.5" r="0.8"/><circle cx="72.8" cy="534.4" r="0.9"/><circle cx="73.2" cy="533.3" r="0.5"/><circle cx="65.7" cy="553.7" r="0.7"/><circle cx="63.7" cy="554.3" r="0.5"/><circle cx="66.3" cy="555.1" r="0.9"/><circle cx="65.9" cy="555.0" r="0.9"/><circle cx="49.6" cy="539.4" r="0.5"/><circle cx="48.5" cy="539.5" r="0.6"/><circle cx="48.0" cy="541.8" r="0.6"/><circle cx="76.0" cy="558.6" r="0.8"/><circle cx="75.6" cy="557.2" r="0.5"/><circle cx="75.4" cy="558.6" r="1.0"/><circle cx="75.6" cy="558.1" r="1.0"/><circle cx="75.7" cy="556.9" r="0.9"/><circle cx="75.3" cy="558.2" r="0.5"/><circle cx="61.1" cy="556.1" r="1.0"/><circle cx="60.4" cy="554.6" r="0.6"/><circle cx="60.2" cy="557.1" r="1.0"/><circle cx="60.1" cy="556.0" r="0.7"/><circle cx="78.1" cy="549.4" r="0.8"/><circle cx="78.3" cy="550.9" r="0.7"/><circle cx="69.2" cy="532.9" r="0.8"/><circle cx="69.8" cy="532.9" r="0.8"/><circle cx="68.0" cy="533.8" r="0.9"/><circle cx="66.6" cy="534.5" r="0.8"/><circle cx="67.9" cy="534.3" r="1.0"/><circle cx="58.5" cy="547.7" r="0.9"/><circle cx="58.1" cy="546.3" r="0.6"/><circle cx="57.3" cy="547.2" r="0.5"/><circle cx="58.4" cy="546.8" r="0.8"/><circle cx="51.7" cy="538.4" r="0.7"/><circle cx="49.5" cy="540.5" r="0.5"/><circle cx="49.0" cy="540.4" r="0.6"/><circle cx="49.1" cy="541.3" r="1.0"/><circle cx="49.2" cy="539.2" r="0.7"/><circle cx="55.7" cy="555.0" r="0.8"/><circle cx="54.8" cy="557.1" r="0.8"/><circle cx="56.1" cy="554.4" r="0.5"/><circle cx="56.4" cy="555.5" r="0.8"/><circle cx="61.8" cy="558.9" r="0.9"/><circle cx="61.9" cy="556.0" r="0.7"/><circle cx="73.3" cy="541.2" r="0.6"/><circle cx="72.2" cy="543.4" r="0.8"/><circle cx="70.9" cy="541.2" r="0.9"/><circle cx="70.9" cy="541.9" r="0.7"/><circle cx="71.6" cy="543.0" r="0.9"/><circle cx="72.0" cy="545.1" r="0.8"/><circle cx="73.4" cy="553.9" r="0.9"/><circle cx="75.0" cy="554.5" r="1.0"/><circle cx="74.6" cy="554.7" r="0.9"/><circle cx="75.5" cy="554.0" r="1.0"/><circle cx="61.1" cy="556.0" r="0.6"/><circle cx="63.2" cy="555.5" r="0.6"/><circle cx="62.8" cy="556.0" r="0.9"/><circle cx="66.3" cy="558.8" r="0.5"/><circle cx="65.2" cy="559.9" r="0.9"/><circle cx="66.2" cy="560.6" r="0.9"/><circle cx="65.1" cy="559.1" r="1.0"/><circle cx="65.1" cy="560.6" r="0.6"/><circle cx="67.9" cy="536.5" r="0.8"/><circle cx="67.8" cy="535.0" r="1.0"/><circle cx="68.1" cy="536.1" r="1.0"/><circle cx="67.1" cy="535.7" r="0.8"/><circle cx="61.5" cy="534.0" r="1.0"/><circle cx="62.6" cy="529.7" r="1.0"/><circle cx="62.7" cy="533.3" r="1.0"/><circle cx="84.7" cy="546.9" r="0.7"/><circle cx="83.6" cy="549.4" r="0.5"/><circle cx="81.7" cy="550.1" r="0.8"/><circle cx="83.4" cy="548.3" r="0.9"/><circle cx="82.7" cy="550.7" r="0.5"/><circle cx="72.5" cy="561.4" r="0.7"/><circle cx="72.1" cy="561.5" r="0.7"/><circle cx="72.5" cy="560.2" r="0.5"/><circle cx="72.3" cy="561.7" r="1.0"/><circle cx="71.9" cy="563.1" r="1.0"/><circle cx="71.6" cy="562.3" r="1.0"/><circle cx="65.8" cy="561.2" r="0.9"/><circle cx="63.7" cy="560.7" r="1.0"/><circle cx="66.6" cy="562.3" r="0.5"/><circle cx="64.9" cy="560.6" r="0.9"/><circle cx="82.3" cy="537.3" r="0.5"/><circle cx="82.2" cy="536.2" r="0.9"/><circle cx="81.9" cy="537.0" r="1.0"/><circle cx="80.0" cy="536.9" r="0.8"/><circle cx="80.6" cy="536.4" r="0.5"/><circle cx="57.7" cy="534.8" r="1.0"/><circle cx="60.5" cy="533.2" r="0.6"/><circle cx="58.8" cy="535.2" r="0.7"/><circle cx="58.3" cy="534.1" r="0.6"/><circle cx="57.4" cy="535.6" r="0.9"/><circle cx="76.4" cy="530.7" r="0.6"/><circle cx="76.2" cy="532.1" r="0.6"/><circle cx="72.7" cy="559.8" r="0.8"/><circle cx="71.3" cy="559.1" r="1.0"/><circle cx="71.0" cy="558.2" r="0.9"/><circle cx="84.5" cy="544.8" r="0.6"/><circle cx="81.8" cy="545.0" r="1.0"/><circle cx="77.2" cy="548.7" r="1.0"/><circle cx="74.8" cy="550.2" r="0.7"/><circle cx="76.0" cy="550.5" r="1.0"/><circle cx="77.0" cy="549.6" r="0.8"/><circle cx="76.2" cy="549.7" r="0.5"/><circle cx="76.3" cy="549.6" r="0.8"/><circle cx="71.4" cy="560.5" r="0.7"/><circle cx="70.7" cy="561.1" r="0.5"/><circle cx="52.7" cy="547.7" r="0.8"/><circle cx="51.7" cy="546.9" r="0.5"/><circle cx="51.6" cy="546.3" r="0.6"/><circle cx="51.2" cy="549.3" r="0.6"/><circle cx="51.2" cy="546.9" r="0.7"/><circle cx="84.3" cy="544.6" r="0.7"/><circle cx="85.7" cy="545.0" r="0.5"/><circle cx="85.1" cy="545.6" r="0.8"/><circle cx="83.8" cy="546.5" r="0.5"/><circle cx="70.6" cy="550.4" r="0.7"/><circle cx="69.1" cy="549.8" r="0.6"/><circle cx="67.5" cy="549.5" r="0.5"/><circle cx="67.9" cy="549.9" r="1.0"/><circle cx="69.7" cy="550.2" r="1.0"/><circle cx="45.8" cy="547.0" r="0.5"/><circle cx="46.5" cy="546.5" r="1.0"/><circle cx="74.9" cy="534.0" r="0.9"/><circle cx="76.6" cy="533.6" r="0.7"/><circle cx="75.5" cy="532.9" r="0.5"/><circle cx="76.4" cy="534.4" r="1.0"/><circle cx="77.5" cy="533.3" r="0.9"/><circle cx="78.0" cy="533.4" r="0.5"/><circle cx="50.9" cy="540.2" r="0.6"/><circle cx="50.7" cy="541.4" r="0.8"/><circle cx="51.4" cy="540.9" r="1.0"/><circle cx="50.4" cy="541.0" r="0.8"/><circle cx="75.4" cy="530.4" r="0.7"/><circle cx="74.6" cy="531.4" r="0.8"/><circle cx="75.5" cy="530.0" r="0.5"/><circle cx="76.4" cy="529.8" r="0.9"/><circle cx="77.0" cy="530.9" r="1.0"/><circle cx="71.7" cy="527.4" r="0.9"/><circle cx="70.0" cy="529.2" r="1.0"/><circle cx="79.6" cy="540.5" r="0.6"/><circle cx="80.8" cy="540.8" r="0.6"/><circle cx="79.6" cy="542.9" r="1.0"/><circle cx="66.1" cy="560.3" r="0.8"/><circle cx="65.8" cy="559.8" r="0.6"/><circle cx="67.1" cy="561.4" r="0.9"/><circle cx="66.4" cy="559.3" r="0.9"/><circle cx="66.8" cy="560.3" r="0.8"/><circle cx="73.7" cy="536.6" r="1.0"/><circle cx="75.0" cy="537.9" r="1.0"/><circle cx="75.0" cy="535.9" r="0.7"/><circle cx="74.7" cy="537.1" r="0.6"/><circle cx="75.6" cy="537.1" r="0.8"/><circle cx="75.8" cy="536.6" r="0.8"/><circle cx="79.4" cy="542.4" r="0.9"/><circle cx="77.7" cy="542.6" r="0.6"/><circle cx="77.1" cy="542.6" r="0.7"/><circle cx="78.7" cy="543.5" r="0.8"/><circle cx="78.0" cy="543.3" r="0.8"/><circle cx="77.4" cy="544.3" r="0.8"/><circle cx="62.5" cy="559.5" r="0.7"/><circle cx="63.5" cy="559.9" r="0.6"/><circle cx="62.3" cy="558.6" r="0.8"/><circle cx="70.9" cy="525.3" r="0.5"/><circle cx="70.9" cy="525.8" r="0.8"/><circle cx="69.0" cy="526.9" r="0.8"/><circle cx="69.5" cy="527.5" r="0.5"/><circle cx="70.2" cy="527.5" r="0.6"/><circle cx="74.8" cy="541.2" r="1.0"/><circle cx="74.0" cy="541.6" r="0.8"/><circle cx="57.5" cy="535.1" r="0.6"/><circle cx="58.9" cy="534.9" r="0.9"/><circle cx="57.1" cy="534.3" r="1.0"/><circle cx="57.1" cy="533.4" r="0.9"/><circle cx="56.5" cy="534.6" r="0.5"/><circle cx="57.1" cy="534.6" r="0.7"/><circle cx="60.3" cy="528.6" r="0.8"/><circle cx="59.0" cy="530.0" r="0.8"/><circle cx="60.3" cy="530.6" r="1.0"/><circle cx="60.8" cy="531.1" r="0.5"/><circle cx="68.6" cy="556.0" r="0.6"/><circle cx="67.8" cy="555.9" r="0.6"/><circle cx="68.3" cy="555.8" r="0.9"/><circle cx="81.5" cy="543.7" r="0.5"/><circle cx="84.9" cy="543.9" r="0.6"/><circle cx="83.8" cy="542.5" r="0.7"/><circle cx="81.6" cy="542.9" r="0.6"/><circle cx="83.1" cy="543.6" r="0.8"/><circle cx="75.4" cy="544.6" r="0.8"/><circle cx="75.3" cy="544.6" r="0.5"/><circle cx="68.4" cy="525.8" r="1.0"/><circle cx="69.3" cy="528.0" r="1.0"/><circle cx="68.1" cy="527.1" r="0.6"/><circle cx="74.1" cy="546.2" r="0.6"/><circle cx="73.9" cy="547.5" r="0.9"/><circle cx="62.2" cy="555.3" r="1.0"/><circle cx="63.7" cy="555.0" r="1.0"/><circle cx="62.4" cy="553.3" r="0.7"/><circle cx="61.9" cy="556.0" r="0.9"/><circle cx="63.3" cy="554.7" r="0.5"/><circle cx="80.1" cy="551.6" r="0.5"/><circle cx="80.0" cy="549.4" r="0.5"/><circle cx="80.2" cy="551.3" r="1.0"/><circle cx="80.8" cy="549.9" r="0.7"/><circle cx="79.9" cy="549.3" r="0.7"/><circle cx="78.8" cy="551.3" r="0.6"/><circle cx="62.8" cy="564.3" r="0.5"/><circle cx="63.7" cy="564.0" r="0.7"/><circle cx="63.4" cy="564.5" r="0.5"/><circle cx="77.3" cy="551.5" r="0.7"/><circle cx="75.7" cy="551.7" r="0.6"/><circle cx="75.2" cy="552.9" r="0.6"/><circle cx="77.5" cy="552.3" r="1.0"/><circle cx="77.0" cy="553.3" r="0.9"/><circle cx="81.5" cy="549.5" r="1.0"/><circle cx="81.0" cy="547.8" r="0.6"/><circle cx="80.3" cy="549.6" r="0.8"/><circle cx="82.4" cy="549.8" r="1.0"/><circle cx="81.8" cy="549.6" r="0.6"/><circle cx="81.2" cy="547.4" r="0.5"/><circle cx="65.8" cy="553.8" r="0.6"/><circle cx="67.1" cy="554.1" r="1.0"/><circle cx="67.0" cy="554.3" r="0.8"/><circle cx="66.6" cy="554.8" r="0.5"/><circle cx="63.3" cy="558.0" r="0.5"/><circle cx="63.2" cy="557.6" r="0.5"/><circle cx="61.6" cy="557.7" r="0.9"/><circle cx="61.6" cy="556.7" r="0.7"/><circle cx="60.4" cy="540.7" r="1.0"/><circle cx="59.4" cy="539.6" r="0.8"/><circle cx="60.5" cy="539.6" r="0.8"/><circle cx="60.7" cy="539.8" r="0.8"/><circle cx="59.8" cy="541.3" r="0.5"/><circle cx="66.0" cy="558.8" r="0.7"/><circle cx="65.3" cy="558.7" r="1.0"/><circle cx="79.1" cy="547.3" r="1.0"/><circle cx="81.1" cy="547.0" r="0.5"/><circle cx="81.4" cy="545.7" r="0.5"/><circle cx="80.5" cy="548.1" r="0.9"/><circle cx="81.0" cy="547.3" r="0.7"/><circle cx="48.4" cy="549.6" r="0.8"/><circle cx="49.1" cy="549.7" r="0.7"/><circle cx="49.2" cy="550.4" r="0.9"/><circle cx="67.2" cy="531.5" r="0.8"/><circle cx="67.3" cy="533.6" r="0.5"/><circle cx="71.2" cy="542.4" r="0.6"/><circle cx="69.8" cy="543.9" r="1.0"/><circle cx="73.9" cy="542.5" r="0.7"/><circle cx="72.7" cy="544.3" r="0.5"/><circle cx="72.3" cy="560.8" r="0.5"/><circle cx="71.7" cy="561.0" r="0.9"/><circle cx="70.0" cy="564.0" r="0.9"/><circle cx="71.6" cy="561.2" r="0.7"/><circle cx="72.7" cy="561.8" r="0.9"/><circle cx="71.6" cy="560.1" r="0.9"/><circle cx="70.3" cy="533.3" r="0.6"/><circle cx="69.9" cy="532.4" r="0.5"/><circle cx="71.6" cy="532.0" r="0.6"/><circle cx="70.9" cy="532.6" r="0.8"/><circle cx="78.1" cy="540.4" r="0.5"/><circle cx="79.7" cy="541.6" r="0.8"/><circle cx="77.5" cy="541.9" r="0.5"/><circle cx="77.6" cy="543.0" r="0.7"/><circle cx="78.6" cy="543.1" r="0.9"/><circle cx="78.4" cy="543.1" r="0.8"/><circle cx="58.0" cy="528.6" r="0.6"/><circle cx="57.2" cy="529.2" r="0.9"/><circle cx="55.9" cy="531.0" r="0.8"/><circle cx="57.6" cy="530.9" r="0.5"/><circle cx="57.3" cy="530.3" r="0.7"/><circle cx="58.3" cy="531.1" r="0.7"/><circle cx="76.5" cy="535.0" r="0.9"/><circle cx="75.3" cy="534.3" r="0.7"/><circle cx="80.1" cy="546.5" r="0.8"/><circle cx="80.1" cy="545.7" r="0.9"/><circle cx="72.4" cy="527.2" r="1.0"/><circle cx="74.8" cy="527.5" r="0.8"/><circle cx="73.3" cy="537.7" r="0.8"/><circle cx="74.8" cy="536.0" r="0.7"/><circle cx="74.1" cy="536.7" r="0.6"/><circle cx="73.5" cy="537.2" r="0.7"/><circle cx="81.3" cy="531.4" r="0.9"/><circle cx="79.6" cy="532.3" r="0.6"/><circle cx="78.9" cy="531.0" r="0.9"/><circle cx="81.4" cy="532.0" r="1.0"/><circle cx="80.9" cy="550.5" r="0.9"/><circle cx="79.1" cy="550.6" r="0.5"/><circle cx="79.5" cy="550.3" r="0.7"/><circle cx="81.5" cy="551.4" r="0.9"/><circle cx="82.0" cy="554.1" r="0.9"/><circle cx="82.9" cy="555.3" r="0.5"/><circle cx="80.3" cy="537.9" r="0.9"/><circle cx="80.8" cy="536.4" r="0.6"/><circle cx="59.6" cy="557.4" r="1.0"/><circle cx="59.6" cy="557.9" r="0.9"/><circle cx="60.8" cy="557.0" r="0.9"/><circle cx="60.4" cy="558.1" r="0.9"/><circle cx="58.3" cy="556.3" r="0.8"/><circle cx="68.4" cy="538.0" r="0.6"/><circle cx="67.5" cy="537.3" r="0.5"/><circle cx="67.2" cy="536.8" r="1.0"/><circle cx="68.9" cy="538.2" r="0.5"/><circle cx="68.8" cy="537.4" r="0.6"/><circle cx="67.3" cy="536.6" r="0.5"/><circle cx="62.2" cy="528.1" r="0.8"/><circle cx="62.0" cy="527.5" r="1.0"/><circle cx="62.2" cy="530.8" r="0.9"/><circle cx="69.6" cy="546.3" r="0.9"/><circle cx="69.8" cy="547.5" r="0.7"/><circle cx="69.7" cy="546.3" r="0.8"/><circle cx="67.7" cy="546.5" r="0.5"/><circle cx="69.2" cy="545.1" r="0.8"/><circle cx="68.3" cy="545.3" r="0.7"/></g>
<g fill="#28298c" opacity="0.6"><circle cx="83.8" cy="539.4" r="0.6"/><circle cx="62.0" cy="561.5" r="0.4"/><circle cx="60.4" cy="526.3" r="0.6"/><circle cx="55.9" cy="537.6" r="0.7"/><circle cx="51.0" cy="534.4" r="0.5"/><circle cx="77.4" cy="536.3" r="0.5"/><circle cx="52.2" cy="535.2" r="0.7"/><circle cx="62.4" cy="564.1" r="0.4"/><circle cx="55.7" cy="551.3" r="0.6"/><circle cx="80.7" cy="533.4" r="0.4"/><circle cx="73.5" cy="528.1" r="0.7"/><circle cx="63.9" cy="561.9" r="0.6"/><circle cx="58.8" cy="528.4" r="0.7"/><circle cx="77.9" cy="552.5" r="0.5"/><circle cx="72.0" cy="563.5" r="0.6"/><circle cx="68.3" cy="565.5" r="0.6"/><circle cx="49.2" cy="549.5" r="0.4"/><circle cx="66.4" cy="533.8" r="0.6"/><circle cx="79.1" cy="553.6" r="0.6"/><circle cx="68.3" cy="564.1" r="0.6"/><circle cx="81.0" cy="532.7" r="0.5"/><circle cx="53.4" cy="537.6" r="0.4"/><circle cx="70.8" cy="555.3" r="0.6"/><circle cx="53.7" cy="540.3" r="0.5"/><circle cx="75.6" cy="558.4" r="0.4"/><circle cx="51.9" cy="560.3" r="0.4"/><circle cx="70.3" cy="529.1" r="0.4"/><circle cx="56.9" cy="559.5" r="0.5"/><circle cx="70.5" cy="546.6" r="0.7"/><circle cx="47.0" cy="547.4" r="0.5"/><circle cx="68.5" cy="533.9" r="0.5"/><circle cx="68.5" cy="525.8" r="0.6"/><circle cx="65.8" cy="565.9" r="0.4"/><circle cx="70.8" cy="555.5" r="0.4"/><circle cx="60.5" cy="543.5" r="0.7"/><circle cx="80.5" cy="540.8" r="0.7"/><circle cx="60.7" cy="541.7" r="0.5"/><circle cx="74.8" cy="543.5" r="0.4"/><circle cx="56.0" cy="533.1" r="0.7"/><circle cx="52.6" cy="556.6" r="0.5"/><circle cx="75.9" cy="543.6" r="0.7"/><circle cx="77.2" cy="548.4" r="0.4"/><circle cx="77.4" cy="538.0" r="0.7"/><circle cx="84.6" cy="551.3" r="0.6"/><circle cx="55.5" cy="531.5" r="0.7"/><circle cx="70.3" cy="550.8" r="0.6"/><circle cx="57.4" cy="527.8" r="0.5"/><circle cx="67.1" cy="529.1" r="0.4"/><circle cx="65.7" cy="558.7" r="0.4"/><circle cx="73.8" cy="559.0" r="0.4"/><circle cx="62.2" cy="537.2" r="0.4"/><circle cx="72.4" cy="562.6" r="0.4"/><circle cx="70.0" cy="565.3" r="0.7"/><circle cx="81.1" cy="533.2" r="0.4"/><circle cx="78.5" cy="554.2" r="0.7"/><circle cx="53.1" cy="531.9" r="0.5"/><circle cx="72.2" cy="533.8" r="0.5"/><circle cx="76.9" cy="559.0" r="0.4"/><circle cx="64.8" cy="539.4" r="0.5"/><circle cx="72.8" cy="538.8" r="0.4"/><circle cx="74.3" cy="557.6" r="0.4"/><circle cx="56.6" cy="562.2" r="0.4"/><circle cx="59.9" cy="559.7" r="0.7"/><circle cx="74.8" cy="544.5" r="0.4"/><circle cx="56.7" cy="528.6" r="0.4"/><circle cx="62.9" cy="560.6" r="0.4"/><circle cx="59.2" cy="553.8" r="0.7"/><circle cx="84.6" cy="536.4" r="0.4"/><circle cx="76.2" cy="538.1" r="0.4"/><circle cx="61.4" cy="563.1" r="0.7"/><circle cx="67.7" cy="542.0" r="0.5"/><circle cx="75.6" cy="545.8" r="0.6"/><circle cx="72.5" cy="560.3" r="0.5"/><circle cx="70.2" cy="565.1" r="0.5"/><circle cx="70.2" cy="554.1" r="0.6"/><circle cx="72.2" cy="562.6" r="0.4"/><circle cx="60.3" cy="540.8" r="0.5"/><circle cx="69.6" cy="557.4" r="0.6"/><circle cx="73.0" cy="529.2" r="0.6"/><circle cx="76.2" cy="550.0" r="0.6"/><circle cx="63.8" cy="531.6" r="0.4"/><circle cx="56.7" cy="561.9" r="0.6"/><circle cx="47.0" cy="546.5" r="0.4"/><circle cx="46.8" cy="548.6" r="0.7"/><circle cx="71.0" cy="556.8" r="0.6"/><circle cx="73.4" cy="557.5" r="0.5"/><circle cx="82.9" cy="546.2" r="0.5"/><circle cx="51.5" cy="544.2" r="0.4"/><circle cx="73.6" cy="529.3" r="0.7"/><circle cx="63.2" cy="533.1" r="0.5"/><circle cx="83.2" cy="552.6" r="0.7"/><circle cx="46.2" cy="546.4" r="0.5"/><circle cx="50.8" cy="542.0" r="0.4"/><circle cx="69.6" cy="565.7" r="0.4"/><circle cx="66.3" cy="553.9" r="0.6"/><circle cx="70.4" cy="548.6" r="0.6"/><circle cx="76.9" cy="546.9" r="0.6"/><circle cx="50.0" cy="543.3" r="0.6"/><circle cx="71.9" cy="539.7" r="0.6"/><circle cx="70.6" cy="549.8" r="0.5"/><circle cx="63.4" cy="561.0" r="0.4"/><circle cx="75.6" cy="556.5" r="0.6"/><circle cx="77.9" cy="561.1" r="0.6"/><circle cx="75.7" cy="561.4" r="0.6"/><circle cx="51.0" cy="558.6" r="0.5"/><circle cx="47.4" cy="542.6" r="0.5"/><circle cx="69.7" cy="526.0" r="0.5"/><circle cx="60.4" cy="555.7" r="0.5"/><circle cx="73.1" cy="526.5" r="0.7"/><circle cx="77.2" cy="530.3" r="0.4"/><circle cx="81.5" cy="541.6" r="0.7"/><circle cx="55.9" cy="551.2" r="0.6"/><circle cx="52.9" cy="543.1" r="0.4"/><circle cx="51.6" cy="545.3" r="0.4"/><circle cx="75.5" cy="543.9" r="0.6"/><circle cx="52.9" cy="530.9" r="0.6"/><circle cx="80.9" cy="532.8" r="0.4"/><circle cx="64.6" cy="562.8" r="0.6"/><circle cx="54.5" cy="542.5" r="0.7"/><circle cx="66.2" cy="562.6" r="0.5"/></g>
<circle cx="113.00" cy="545.70" r="21.70" fill="#868fa5" stroke="#32366f" stroke-width="1.3"/>
<g fill="#60679a" opacity="0.55"><circle cx="126.4" cy="541.4" r="1.2"/><circle cx="105.8" cy="536.1" r="1.0"/><circle cx="128.6" cy="541.3" r="1.5"/><circle cx="101.9" cy="548.1" r="1.5"/><circle cx="119.2" cy="551.8" r="1.0"/><circle cx="103.2" cy="552.2" r="1.2"/><circle cx="122.2" cy="551.4" r="1.6"/><circle cx="98.4" cy="533.6" r="1.6"/><circle cx="118.1" cy="561.8" r="1.8"/><circle cx="99.2" cy="541.4" r="1.7"/><circle cx="107.6" cy="559.2" r="1.1"/><circle cx="102.6" cy="544.9" r="1.3"/><circle cx="129.1" cy="546.9" r="1.3"/><circle cx="114.4" cy="564.8" r="1.6"/><circle cx="109.8" cy="560.2" r="2.2"/><circle cx="114.6" cy="534.0" r="1.0"/><circle cx="117.2" cy="541.3" r="1.4"/><circle cx="108.5" cy="549.5" r="1.4"/><circle cx="126.8" cy="557.0" r="1.1"/><circle cx="111.6" cy="525.6" r="1.0"/><circle cx="105.5" cy="555.8" r="1.7"/><circle cx="122.7" cy="532.4" r="1.9"/><circle cx="111.9" cy="530.5" r="1.8"/><circle cx="95.1" cy="548.5" r="1.9"/><circle cx="128.1" cy="536.7" r="1.0"/><circle cx="132.3" cy="546.2" r="1.9"/><circle cx="96.9" cy="545.9" r="2.1"/><circle cx="99.1" cy="553.6" r="1.9"/><circle cx="97.9" cy="533.7" r="1.3"/><circle cx="99.2" cy="549.5" r="1.8"/><circle cx="103.9" cy="553.2" r="1.6"/><circle cx="107.2" cy="557.7" r="1.9"/><circle cx="94.0" cy="545.8" r="1.4"/><circle cx="109.8" cy="554.7" r="1.0"/><circle cx="99.1" cy="537.9" r="0.9"/><circle cx="104.2" cy="563.4" r="2.0"/><circle cx="131.3" cy="540.8" r="1.1"/><circle cx="124.8" cy="538.3" r="0.8"/><circle cx="108.2" cy="543.6" r="1.5"/><circle cx="115.9" cy="526.2" r="1.6"/><circle cx="92.6" cy="543.5" r="1.5"/><circle cx="99.7" cy="556.8" r="1.3"/><circle cx="103.4" cy="558.8" r="2.1"/><circle cx="96.0" cy="543.0" r="0.9"/><circle cx="102.3" cy="553.4" r="1.6"/><circle cx="124.6" cy="534.8" r="2.2"/><circle cx="99.2" cy="551.1" r="1.7"/><circle cx="101.7" cy="562.7" r="1.5"/><circle cx="121.9" cy="562.1" r="1.2"/><circle cx="122.3" cy="527.7" r="1.5"/><circle cx="119.0" cy="541.0" r="1.8"/><circle cx="131.7" cy="544.6" r="2.0"/><circle cx="120.7" cy="557.3" r="1.2"/><circle cx="97.8" cy="545.2" r="1.1"/><circle cx="106.5" cy="538.7" r="1.6"/><circle cx="125.8" cy="545.2" r="1.7"/><circle cx="108.8" cy="548.3" r="1.9"/><circle cx="108.6" cy="534.5" r="0.8"/><circle cx="119.6" cy="535.7" r="1.6"/><circle cx="118.6" cy="561.8" r="1.5"/><circle cx="111.4" cy="561.3" r="1.7"/><circle cx="128.4" cy="545.4" r="1.6"/><circle cx="122.9" cy="555.2" r="1.0"/><circle cx="127.2" cy="556.9" r="0.9"/><circle cx="103.8" cy="544.4" r="2.0"/><circle cx="118.7" cy="530.3" r="0.9"/><circle cx="113.4" cy="542.9" r="1.3"/><circle cx="102.3" cy="559.7" r="1.0"/><circle cx="122.2" cy="552.3" r="2.1"/><circle cx="103.6" cy="558.8" r="1.4"/><circle cx="125.6" cy="550.2" r="2.0"/><circle cx="128.6" cy="541.7" r="1.4"/><circle cx="113.1" cy="562.2" r="0.9"/><circle cx="125.1" cy="530.0" r="1.2"/><circle cx="120.9" cy="527.8" r="1.2"/><circle cx="128.8" cy="541.6" r="1.5"/><circle cx="113.9" cy="565.7" r="1.3"/><circle cx="116.2" cy="563.1" r="1.2"/><circle cx="93.8" cy="547.6" r="1.9"/><circle cx="118.0" cy="555.3" r="1.3"/><circle cx="122.5" cy="544.0" r="1.2"/><circle cx="124.9" cy="556.1" r="1.5"/><circle cx="102.0" cy="553.3" r="0.9"/><circle cx="116.7" cy="538.6" r="1.3"/><circle cx="116.9" cy="555.9" r="1.2"/><circle cx="123.5" cy="548.0" r="1.7"/><circle cx="120.0" cy="556.2" r="1.8"/><circle cx="112.1" cy="552.7" r="2.0"/><circle cx="105.4" cy="548.5" r="2.0"/><circle cx="123.0" cy="561.3" r="1.3"/><circle cx="100.3" cy="558.1" r="2.1"/><circle cx="122.6" cy="542.6" r="1.5"/><circle cx="102.9" cy="548.8" r="1.0"/><circle cx="111.8" cy="563.2" r="2.1"/><circle cx="102.1" cy="557.6" r="1.1"/><circle cx="116.8" cy="561.6" r="2.0"/><circle cx="105.0" cy="545.0" r="1.6"/><circle cx="114.6" cy="534.4" r="1.3"/><circle cx="97.5" cy="538.7" r="1.2"/><circle cx="124.5" cy="552.6" r="1.0"/><circle cx="104.8" cy="562.9" r="1.7"/><circle cx="106.0" cy="542.8" r="1.3"/><circle cx="108.6" cy="560.1" r="0.9"/><circle cx="114.8" cy="557.7" r="1.0"/><circle cx="109.4" cy="563.0" r="1.4"/><circle cx="116.1" cy="526.3" r="2.0"/><circle cx="125.9" cy="559.9" r="1.2"/><circle cx="111.2" cy="541.9" r="1.7"/><circle cx="102.1" cy="552.4" r="1.7"/><circle cx="113.2" cy="563.2" r="2.0"/><circle cx="104.2" cy="536.4" r="1.1"/><circle cx="119.6" cy="541.7" r="1.8"/><circle cx="130.0" cy="550.1" r="0.9"/><circle cx="115.9" cy="554.3" r="1.2"/><circle cx="125.9" cy="548.9" r="1.2"/><circle cx="120.2" cy="560.8" r="2.0"/><circle cx="109.7" cy="530.1" r="1.2"/><circle cx="107.3" cy="532.8" r="1.3"/><circle cx="113.5" cy="544.9" r="1.9"/><circle cx="124.3" cy="548.8" r="2.0"/><circle cx="128.7" cy="550.5" r="1.1"/><circle cx="115.0" cy="538.3" r="1.1"/><circle cx="112.9" cy="526.0" r="0.9"/><circle cx="99.3" cy="556.5" r="1.8"/><circle cx="109.3" cy="564.2" r="0.9"/><circle cx="95.2" cy="554.9" r="2.1"/><circle cx="111.8" cy="528.4" r="2.0"/><circle cx="97.1" cy="550.6" r="0.9"/><circle cx="97.3" cy="553.3" r="1.5"/><circle cx="126.8" cy="559.9" r="1.9"/></g>
<g fill="#2b2e8e" opacity="0.85"><circle cx="111.5" cy="542.2" r="1.0"/><circle cx="110.9" cy="540.2" r="0.6"/><circle cx="112.4" cy="541.4" r="0.7"/><circle cx="111.8" cy="541.8" r="0.5"/><circle cx="111.2" cy="539.8" r="0.6"/><circle cx="111.6" cy="542.2" r="0.7"/><circle cx="102.5" cy="562.2" r="0.8"/><circle cx="101.6" cy="562.4" r="0.5"/><circle cx="101.3" cy="560.7" r="1.0"/><circle cx="98.4" cy="556.4" r="0.7"/><circle cx="97.9" cy="556.2" r="0.6"/><circle cx="98.2" cy="557.2" r="0.7"/><circle cx="109.0" cy="552.0" r="0.8"/><circle cx="110.6" cy="552.6" r="1.0"/><circle cx="108.2" cy="552.5" r="0.6"/><circle cx="109.6" cy="551.6" r="0.8"/><circle cx="110.7" cy="552.0" r="0.9"/><circle cx="104.7" cy="553.9" r="1.0"/><circle cx="105.1" cy="554.3" r="0.6"/><circle cx="121.4" cy="546.5" r="0.6"/><circle cx="119.9" cy="545.8" r="1.0"/><circle cx="121.8" cy="548.5" r="0.9"/><circle cx="121.0" cy="546.3" r="0.6"/><circle cx="121.4" cy="546.4" r="0.7"/><circle cx="102.7" cy="557.0" r="0.8"/><circle cx="101.5" cy="555.6" r="0.9"/><circle cx="104.5" cy="555.6" r="0.7"/><circle cx="102.2" cy="556.8" r="0.6"/><circle cx="127.1" cy="554.0" r="1.0"/><circle cx="126.8" cy="553.3" r="0.7"/><circle cx="127.1" cy="554.5" r="0.5"/><circle cx="123.6" cy="531.6" r="0.8"/><circle cx="123.3" cy="531.2" r="0.7"/><circle cx="123.0" cy="531.8" r="0.9"/><circle cx="124.7" cy="530.9" r="0.6"/><circle cx="123.2" cy="531.7" r="0.7"/><circle cx="124.4" cy="531.6" r="0.6"/><circle cx="129.0" cy="542.8" r="0.8"/><circle cx="126.9" cy="542.9" r="0.9"/><circle cx="126.2" cy="542.7" r="0.8"/><circle cx="93.5" cy="548.8" r="1.0"/><circle cx="94.3" cy="548.1" r="0.9"/><circle cx="93.4" cy="548.2" r="0.8"/><circle cx="101.5" cy="540.0" r="0.7"/><circle cx="101.9" cy="540.2" r="1.0"/><circle cx="102.3" cy="541.0" r="0.6"/><circle cx="102.6" cy="538.4" r="0.6"/><circle cx="101.2" cy="538.3" r="0.6"/><circle cx="99.4" cy="540.2" r="0.8"/><circle cx="100.3" cy="541.0" r="0.9"/><circle cx="104.6" cy="544.1" r="0.5"/><circle cx="106.4" cy="545.5" r="0.5"/><circle cx="105.4" cy="544.8" r="0.6"/><circle cx="106.1" cy="545.3" r="0.9"/><circle cx="106.0" cy="546.7" r="0.5"/><circle cx="105.1" cy="546.4" r="0.5"/><circle cx="116.9" cy="561.3" r="1.0"/><circle cx="118.9" cy="562.4" r="0.6"/><circle cx="117.7" cy="561.9" r="0.7"/><circle cx="115.4" cy="562.2" r="0.9"/><circle cx="130.8" cy="547.6" r="0.9"/><circle cx="131.6" cy="546.5" r="0.5"/><circle cx="129.9" cy="546.7" r="0.8"/><circle cx="130.3" cy="546.5" r="1.0"/><circle cx="112.5" cy="562.1" r="1.0"/><circle cx="111.0" cy="562.9" r="0.7"/><circle cx="113.1" cy="562.6" r="0.5"/><circle cx="127.1" cy="531.0" r="0.6"/><circle cx="128.0" cy="532.0" r="0.6"/><circle cx="126.3" cy="532.1" r="1.0"/><circle cx="125.4" cy="532.1" r="0.5"/><circle cx="126.6" cy="531.7" r="0.8"/><circle cx="101.2" cy="535.9" r="0.7"/><circle cx="100.1" cy="538.4" r="0.8"/><circle cx="99.1" cy="537.0" r="0.6"/><circle cx="100.7" cy="537.1" r="0.6"/><circle cx="100.5" cy="534.8" r="0.6"/><circle cx="127.2" cy="540.4" r="0.7"/><circle cx="127.0" cy="540.4" r="1.0"/><circle cx="126.5" cy="540.4" r="0.9"/><circle cx="125.9" cy="541.0" r="0.8"/><circle cx="102.7" cy="540.9" r="0.9"/><circle cx="104.8" cy="540.2" r="0.5"/><circle cx="103.5" cy="542.1" r="0.8"/><circle cx="104.5" cy="542.1" r="0.9"/><circle cx="103.3" cy="542.8" r="0.5"/><circle cx="105.2" cy="542.2" r="0.7"/><circle cx="119.9" cy="536.6" r="0.7"/><circle cx="121.3" cy="536.0" r="0.6"/><circle cx="121.6" cy="535.6" r="0.7"/><circle cx="114.4" cy="556.6" r="1.0"/><circle cx="113.6" cy="555.3" r="0.7"/><circle cx="114.3" cy="554.1" r="0.8"/><circle cx="114.9" cy="557.3" r="0.6"/><circle cx="105.2" cy="533.0" r="1.0"/><circle cx="104.0" cy="532.4" r="0.7"/><circle cx="102.3" cy="533.2" r="0.9"/><circle cx="104.3" cy="530.8" r="1.0"/><circle cx="116.9" cy="555.8" r="0.8"/><circle cx="118.4" cy="556.4" r="0.5"/><circle cx="116.6" cy="556.9" r="0.6"/><circle cx="117.9" cy="556.3" r="0.6"/><circle cx="118.2" cy="550.4" r="1.0"/><circle cx="116.5" cy="550.1" r="0.6"/><circle cx="124.2" cy="534.9" r="0.6"/><circle cx="123.6" cy="533.8" r="0.7"/><circle cx="123.3" cy="534.4" r="0.5"/><circle cx="123.4" cy="535.3" r="0.8"/><circle cx="99.2" cy="547.4" r="1.0"/><circle cx="101.7" cy="546.3" r="0.8"/><circle cx="100.5" cy="547.0" r="0.9"/><circle cx="101.2" cy="545.7" r="0.5"/><circle cx="101.2" cy="547.2" r="1.0"/><circle cx="100.4" cy="546.8" r="0.7"/><circle cx="123.4" cy="532.3" r="0.6"/><circle cx="124.0" cy="532.6" r="0.9"/><circle cx="124.2" cy="531.7" r="0.6"/><circle cx="129.7" cy="542.9" r="0.8"/><circle cx="130.3" cy="543.9" r="0.8"/><circle cx="131.8" cy="544.2" r="1.0"/><circle cx="131.2" cy="544.2" r="0.7"/><circle cx="132.5" cy="542.9" r="0.8"/><circle cx="105.1" cy="543.4" r="1.0"/><circle cx="105.3" cy="544.0" r="0.6"/><circle cx="105.4" cy="541.6" r="0.5"/><circle cx="112.0" cy="542.4" r="0.6"/><circle cx="115.4" cy="540.7" r="0.7"/><circle cx="114.1" cy="543.3" r="0.5"/><circle cx="129.0" cy="546.5" r="0.6"/><circle cx="128.0" cy="548.7" r="0.7"/><circle cx="128.4" cy="545.8" r="0.5"/><circle cx="130.7" cy="547.5" r="0.6"/><circle cx="128.9" cy="547.9" r="0.7"/><circle cx="121.3" cy="539.2" r="0.5"/><circle cx="122.3" cy="536.7" r="0.6"/><circle cx="121.1" cy="536.4" r="0.6"/><circle cx="120.6" cy="538.9" r="1.0"/><circle cx="121.8" cy="539.2" r="0.8"/><circle cx="101.7" cy="537.9" r="0.5"/><circle cx="101.0" cy="538.1" r="0.7"/><circle cx="102.2" cy="540.7" r="0.9"/><circle cx="123.9" cy="560.9" r="0.8"/><circle cx="122.5" cy="561.6" r="0.7"/><circle cx="103.6" cy="550.7" r="0.5"/><circle cx="101.9" cy="554.0" r="0.9"/><circle cx="102.8" cy="552.7" r="0.6"/><circle cx="101.4" cy="552.6" r="0.5"/><circle cx="102.6" cy="552.4" r="1.0"/><circle cx="105.3" cy="546.3" r="0.6"/><circle cx="104.2" cy="546.0" r="0.8"/><circle cx="106.5" cy="546.3" r="1.0"/><circle cx="131.6" cy="552.8" r="0.6"/><circle cx="131.4" cy="555.4" r="0.5"/><circle cx="129.9" cy="557.1" r="0.6"/><circle cx="114.2" cy="541.6" r="0.5"/><circle cx="113.5" cy="541.0" r="0.6"/><circle cx="111.8" cy="542.3" r="0.9"/><circle cx="114.1" cy="541.7" r="0.8"/><circle cx="121.7" cy="555.1" r="1.0"/><circle cx="120.0" cy="555.7" r="0.8"/><circle cx="121.9" cy="556.1" r="0.9"/><circle cx="122.2" cy="556.1" r="0.8"/><circle cx="121.5" cy="556.8" r="0.5"/><circle cx="98.3" cy="556.4" r="0.8"/><circle cx="97.9" cy="557.4" r="0.5"/><circle cx="98.8" cy="553.4" r="0.8"/><circle cx="96.4" cy="553.6" r="0.6"/><circle cx="97.8" cy="554.1" r="0.7"/><circle cx="98.6" cy="554.3" r="0.8"/><circle cx="107.4" cy="532.2" r="0.8"/><circle cx="107.3" cy="530.7" r="0.6"/><circle cx="106.9" cy="530.0" r="0.7"/><circle cx="105.0" cy="530.8" r="1.0"/><circle cx="112.2" cy="539.7" r="0.9"/><circle cx="113.3" cy="540.4" r="0.9"/><circle cx="112.0" cy="540.2" r="0.9"/><circle cx="114.7" cy="538.8" r="0.5"/><circle cx="119.7" cy="534.9" r="0.6"/><circle cx="120.0" cy="535.0" r="0.9"/><circle cx="118.4" cy="534.4" r="0.5"/><circle cx="116.9" cy="536.4" r="0.9"/><circle cx="118.4" cy="534.9" r="0.9"/><circle cx="122.6" cy="560.6" r="0.6"/><circle cx="122.7" cy="560.4" r="0.7"/><circle cx="123.9" cy="559.9" r="0.8"/><circle cx="115.3" cy="551.4" r="0.6"/><circle cx="115.6" cy="550.3" r="0.8"/><circle cx="115.8" cy="550.2" r="0.7"/><circle cx="115.7" cy="549.4" r="0.7"/><circle cx="116.3" cy="550.9" r="0.7"/><circle cx="115.2" cy="549.9" r="0.7"/><circle cx="119.2" cy="532.3" r="0.5"/><circle cx="117.3" cy="528.9" r="1.0"/><circle cx="118.8" cy="530.4" r="0.6"/><circle cx="119.3" cy="530.3" r="0.7"/><circle cx="102.7" cy="553.1" r="1.0"/><circle cx="101.5" cy="551.4" r="1.0"/><circle cx="120.2" cy="549.4" r="0.9"/><circle cx="120.6" cy="548.0" r="0.7"/><circle cx="122.6" cy="549.6" r="0.8"/><circle cx="121.5" cy="547.8" r="0.5"/><circle cx="121.4" cy="549.7" r="0.9"/><circle cx="118.7" cy="549.3" r="0.9"/><circle cx="118.8" cy="548.4" r="0.5"/><circle cx="118.7" cy="548.6" r="0.8"/><circle cx="120.8" cy="528.2" r="1.0"/><circle cx="121.5" cy="528.7" r="0.8"/><circle cx="121.8" cy="528.1" r="0.8"/><circle cx="103.6" cy="552.1" r="0.6"/><circle cx="103.2" cy="553.4" r="0.8"/><circle cx="103.8" cy="553.2" r="0.6"/><circle cx="102.7" cy="551.1" r="0.8"/><circle cx="103.8" cy="552.3" r="1.0"/><circle cx="100.5" cy="547.8" r="0.5"/><circle cx="103.3" cy="549.9" r="0.9"/><circle cx="101.9" cy="549.1" r="0.7"/><circle cx="101.4" cy="549.6" r="1.0"/><circle cx="100.5" cy="548.4" r="0.9"/><circle cx="101.4" cy="549.6" r="0.6"/><circle cx="126.3" cy="558.5" r="0.8"/><circle cx="127.0" cy="560.6" r="0.8"/><circle cx="126.4" cy="557.7" r="0.9"/><circle cx="107.9" cy="561.5" r="0.9"/><circle cx="108.1" cy="560.6" r="0.7"/><circle cx="108.5" cy="562.0" r="0.5"/><circle cx="117.9" cy="536.5" r="0.5"/><circle cx="118.0" cy="536.7" r="1.0"/><circle cx="117.9" cy="537.6" r="0.8"/><circle cx="117.6" cy="538.0" r="0.5"/><circle cx="118.7" cy="536.5" r="1.0"/><circle cx="115.4" cy="537.8" r="0.7"/><circle cx="115.2" cy="537.1" r="0.8"/><circle cx="116.4" cy="538.2" r="0.9"/><circle cx="108.0" cy="533.7" r="0.8"/><circle cx="107.5" cy="534.8" r="0.8"/><circle cx="106.9" cy="545.0" r="1.0"/><circle cx="107.8" cy="546.7" r="1.0"/><circle cx="98.1" cy="542.7" r="0.9"/><circle cx="98.0" cy="539.8" r="0.8"/><circle cx="103.7" cy="540.0" r="1.0"/><circle cx="102.8" cy="539.9" r="0.6"/><circle cx="113.9" cy="560.9" r="0.6"/><circle cx="114.3" cy="560.0" r="0.5"/><circle cx="111.7" cy="559.0" r="0.8"/><circle cx="113.0" cy="559.6" r="0.8"/></g>
<g fill="#2b2e8e" opacity="0.6"><circle cx="108.1" cy="539.3" r="0.4"/><circle cx="103.1" cy="558.8" r="0.5"/><circle cx="122.0" cy="560.6" r="0.4"/><circle cx="103.2" cy="563.1" r="0.6"/><circle cx="93.7" cy="548.1" r="0.4"/><circle cx="118.8" cy="540.2" r="0.4"/><circle cx="97.9" cy="542.2" r="0.4"/><circle cx="120.8" cy="558.7" r="0.5"/><circle cx="102.5" cy="557.3" r="0.4"/><circle cx="117.1" cy="559.4" r="0.4"/><circle cx="121.0" cy="537.3" r="0.5"/><circle cx="132.5" cy="547.6" r="0.7"/><circle cx="116.9" cy="530.8" r="0.5"/><circle cx="115.3" cy="563.2" r="0.6"/><circle cx="112.1" cy="555.4" r="0.4"/><circle cx="99.0" cy="544.1" r="0.5"/><circle cx="129.9" cy="555.6" r="0.6"/><circle cx="103.5" cy="539.2" r="0.6"/><circle cx="129.5" cy="552.5" r="0.4"/><circle cx="129.6" cy="543.9" r="0.4"/><circle cx="107.0" cy="529.9" r="0.6"/><circle cx="118.0" cy="533.3" r="0.5"/><circle cx="132.8" cy="547.0" r="0.7"/><circle cx="101.0" cy="553.6" r="0.4"/><circle cx="111.8" cy="534.1" r="0.6"/><circle cx="107.6" cy="553.7" r="0.4"/><circle cx="115.0" cy="556.2" r="0.5"/><circle cx="133.3" cy="545.4" r="0.6"/><circle cx="97.7" cy="546.0" r="0.6"/><circle cx="113.2" cy="526.0" r="0.6"/><circle cx="105.4" cy="538.1" r="0.6"/><circle cx="128.6" cy="555.9" r="0.6"/><circle cx="120.1" cy="557.2" r="0.7"/><circle cx="112.5" cy="528.2" r="0.4"/><circle cx="130.5" cy="538.4" r="0.7"/><circle cx="122.0" cy="529.9" r="0.6"/><circle cx="97.7" cy="552.3" r="0.6"/><circle cx="125.8" cy="532.2" r="0.5"/><circle cx="93.2" cy="541.7" r="0.7"/><circle cx="121.5" cy="544.0" r="0.6"/><circle cx="119.2" cy="535.7" r="0.4"/><circle cx="102.6" cy="548.5" r="0.4"/><circle cx="125.9" cy="537.3" r="0.6"/><circle cx="99.1" cy="556.9" r="0.6"/><circle cx="105.3" cy="528.6" r="0.7"/><circle cx="97.2" cy="556.3" r="0.4"/><circle cx="121.9" cy="530.9" r="0.5"/><circle cx="121.6" cy="531.4" r="0.6"/><circle cx="110.6" cy="545.9" r="0.4"/><circle cx="116.2" cy="537.8" r="0.5"/><circle cx="96.8" cy="550.1" r="0.5"/><circle cx="106.3" cy="554.5" r="0.6"/><circle cx="108.6" cy="562.0" r="0.4"/><circle cx="109.3" cy="534.1" r="0.5"/><circle cx="119.1" cy="529.4" r="0.4"/><circle cx="130.0" cy="550.2" r="0.6"/><circle cx="111.6" cy="556.0" r="0.7"/><circle cx="115.2" cy="559.2" r="0.7"/><circle cx="126.2" cy="535.3" r="0.5"/><circle cx="127.9" cy="541.4" r="0.5"/><circle cx="120.6" cy="564.6" r="0.6"/><circle cx="103.2" cy="544.0" r="0.4"/><circle cx="122.6" cy="542.2" r="0.5"/><circle cx="112.9" cy="564.5" r="0.5"/><circle cx="105.3" cy="543.0" r="0.7"/><circle cx="101.8" cy="556.7" r="0.7"/><circle cx="103.2" cy="528.7" r="0.4"/><circle cx="97.1" cy="551.5" r="0.7"/><circle cx="105.8" cy="534.1" r="0.6"/><circle cx="99.3" cy="543.8" r="0.6"/><circle cx="93.3" cy="545.9" r="0.5"/><circle cx="132.0" cy="552.8" r="0.6"/><circle cx="96.5" cy="539.5" r="0.5"/><circle cx="127.2" cy="534.1" r="0.6"/><circle cx="130.8" cy="549.7" r="0.5"/><circle cx="121.9" cy="543.0" r="0.7"/><circle cx="104.9" cy="540.8" r="0.6"/><circle cx="108.3" cy="549.5" r="0.6"/><circle cx="109.7" cy="562.5" r="0.6"/><circle cx="101.0" cy="542.3" r="0.5"/><circle cx="100.9" cy="529.4" r="0.6"/><circle cx="100.2" cy="557.7" r="0.7"/><circle cx="106.5" cy="529.0" r="0.4"/><circle cx="104.2" cy="541.2" r="0.6"/><circle cx="102.3" cy="561.0" r="0.4"/><circle cx="124.3" cy="534.7" r="0.4"/><circle cx="121.7" cy="561.6" r="0.5"/><circle cx="111.1" cy="551.8" r="0.5"/><circle cx="132.7" cy="540.9" r="0.4"/><circle cx="125.0" cy="541.3" r="0.4"/><circle cx="101.0" cy="550.6" r="0.4"/><circle cx="103.6" cy="553.1" r="0.5"/><circle cx="110.9" cy="565.8" r="0.4"/><circle cx="94.2" cy="551.8" r="0.6"/><circle cx="116.1" cy="528.9" r="0.5"/></g>
<circle cx="160.50" cy="545.70" r="21.70" fill="#76888c" stroke="#5c6c72" stroke-width="1.3"/>
<circle cx="208.30" cy="545.70" r="21.70" fill="#77898d" stroke="#5c6c72" stroke-width="1.3"/>
<circle cx="66.30" cy="598.60" r="21.70" fill="#76819e" stroke="#535c7c" stroke-width="1.3"/>
<g fill="#616b8c" opacity="0.55"><circle cx="66.7" cy="589.8" r="1.5"/><circle cx="58.8" cy="584.7" r="1.9"/><circle cx="58.8" cy="607.3" r="2.1"/><circle cx="62.6" cy="613.6" r="1.7"/><circle cx="67.8" cy="587.5" r="0.9"/><circle cx="49.1" cy="591.0" r="1.3"/><circle cx="64.4" cy="618.4" r="1.1"/><circle cx="60.4" cy="596.7" r="1.9"/><circle cx="51.6" cy="607.6" r="1.9"/><circle cx="63.6" cy="605.7" r="1.7"/><circle cx="52.8" cy="583.5" r="1.8"/><circle cx="51.9" cy="609.8" r="2.1"/><circle cx="56.5" cy="613.6" r="1.3"/><circle cx="55.4" cy="613.7" r="1.1"/><circle cx="47.4" cy="594.8" r="1.5"/><circle cx="80.2" cy="588.7" r="1.0"/><circle cx="77.8" cy="603.7" r="1.4"/><circle cx="75.3" cy="586.5" r="1.7"/><circle cx="53.1" cy="607.7" r="1.6"/><circle cx="72.7" cy="589.1" r="1.9"/><circle cx="77.3" cy="614.0" r="1.7"/><circle cx="48.2" cy="598.5" r="2.1"/><circle cx="65.4" cy="579.1" r="1.9"/><circle cx="78.5" cy="586.9" r="1.0"/><circle cx="61.3" cy="581.8" r="1.7"/><circle cx="76.8" cy="603.3" r="1.6"/><circle cx="63.6" cy="617.2" r="1.1"/><circle cx="75.0" cy="604.4" r="1.7"/><circle cx="72.8" cy="579.4" r="1.3"/><circle cx="82.0" cy="606.2" r="2.0"/><circle cx="78.7" cy="598.9" r="1.7"/><circle cx="65.0" cy="606.9" r="0.9"/><circle cx="52.9" cy="593.8" r="1.9"/><circle cx="68.5" cy="594.4" r="1.0"/><circle cx="59.1" cy="591.0" r="1.3"/><circle cx="55.0" cy="593.4" r="1.1"/><circle cx="71.0" cy="616.5" r="2.0"/><circle cx="48.2" cy="594.3" r="0.8"/><circle cx="84.3" cy="601.8" r="1.5"/><circle cx="79.2" cy="604.0" r="1.7"/><circle cx="51.0" cy="589.6" r="1.4"/><circle cx="53.4" cy="590.6" r="1.1"/><circle cx="85.5" cy="598.1" r="1.9"/><circle cx="56.7" cy="616.3" r="2.2"/><circle cx="60.1" cy="599.5" r="1.0"/><circle cx="60.4" cy="585.5" r="1.8"/><circle cx="58.5" cy="610.7" r="1.1"/><circle cx="63.5" cy="611.9" r="1.1"/><circle cx="48.5" cy="596.8" r="1.4"/><circle cx="63.5" cy="589.1" r="1.1"/><circle cx="55.8" cy="594.4" r="1.8"/><circle cx="66.0" cy="578.4" r="2.1"/><circle cx="62.9" cy="579.1" r="1.8"/><circle cx="67.9" cy="604.3" r="0.8"/><circle cx="62.9" cy="579.7" r="1.7"/><circle cx="59.4" cy="607.5" r="1.0"/><circle cx="83.0" cy="597.7" r="1.2"/><circle cx="68.6" cy="603.1" r="1.3"/><circle cx="72.9" cy="580.2" r="1.4"/><circle cx="72.1" cy="603.2" r="1.0"/><circle cx="48.3" cy="601.9" r="2.2"/><circle cx="71.8" cy="579.7" r="1.5"/><circle cx="79.3" cy="612.1" r="1.0"/><circle cx="50.5" cy="597.8" r="1.1"/><circle cx="77.2" cy="600.1" r="2.1"/><circle cx="82.8" cy="592.7" r="2.2"/><circle cx="64.7" cy="584.6" r="1.3"/><circle cx="76.4" cy="582.9" r="1.0"/><circle cx="66.9" cy="601.4" r="1.6"/><circle cx="79.5" cy="599.4" r="2.0"/><circle cx="48.4" cy="602.8" r="0.9"/><circle cx="47.3" cy="594.5" r="0.9"/><circle cx="57.6" cy="589.9" r="2.0"/><circle cx="56.8" cy="587.2" r="1.1"/><circle cx="75.3" cy="592.5" r="1.3"/><circle cx="60.1" cy="594.6" r="1.0"/><circle cx="56.7" cy="601.3" r="1.6"/><circle cx="61.8" cy="582.5" r="1.4"/><circle cx="65.3" cy="592.6" r="0.9"/><circle cx="54.5" cy="607.2" r="1.7"/><circle cx="67.4" cy="616.2" r="1.7"/><circle cx="49.2" cy="601.7" r="1.0"/><circle cx="50.3" cy="587.1" r="0.9"/><circle cx="77.0" cy="597.7" r="1.1"/><circle cx="69.5" cy="585.5" r="2.0"/><circle cx="65.4" cy="581.9" r="0.9"/><circle cx="73.3" cy="597.5" r="1.9"/><circle cx="70.8" cy="600.0" r="1.1"/><circle cx="70.1" cy="618.1" r="1.7"/><circle cx="53.5" cy="583.4" r="2.1"/><circle cx="72.7" cy="607.8" r="0.8"/><circle cx="80.7" cy="609.6" r="2.2"/><circle cx="73.1" cy="614.8" r="1.9"/><circle cx="57.3" cy="597.9" r="0.9"/><circle cx="80.5" cy="586.8" r="2.1"/><circle cx="67.1" cy="597.5" r="1.6"/><circle cx="47.5" cy="598.3" r="1.7"/><circle cx="71.3" cy="583.2" r="0.9"/><circle cx="61.0" cy="597.0" r="1.2"/><circle cx="79.8" cy="599.2" r="1.8"/><circle cx="68.1" cy="595.2" r="1.9"/><circle cx="76.7" cy="608.6" r="1.7"/><circle cx="57.2" cy="603.0" r="1.0"/><circle cx="46.9" cy="592.8" r="1.3"/><circle cx="65.4" cy="591.6" r="2.0"/><circle cx="81.6" cy="609.9" r="1.3"/><circle cx="67.2" cy="586.7" r="1.0"/><circle cx="82.5" cy="596.4" r="1.9"/><circle cx="68.3" cy="599.6" r="1.0"/><circle cx="52.2" cy="588.5" r="1.5"/><circle cx="54.3" cy="606.5" r="1.7"/><circle cx="80.9" cy="590.1" r="1.8"/><circle cx="82.1" cy="589.0" r="2.0"/><circle cx="83.6" cy="602.0" r="1.8"/><circle cx="49.0" cy="606.6" r="2.0"/><circle cx="75.2" cy="595.3" r="1.4"/><circle cx="66.0" cy="616.1" r="1.2"/><circle cx="60.6" cy="610.0" r="0.9"/><circle cx="80.4" cy="596.9" r="1.7"/><circle cx="67.8" cy="578.8" r="2.0"/><circle cx="66.6" cy="578.2" r="1.2"/><circle cx="56.9" cy="604.3" r="0.8"/><circle cx="74.3" cy="591.7" r="2.1"/><circle cx="67.9" cy="586.3" r="1.9"/><circle cx="71.7" cy="579.9" r="1.5"/><circle cx="69.7" cy="592.0" r="1.2"/><circle cx="55.1" cy="610.9" r="1.6"/><circle cx="77.0" cy="615.7" r="1.5"/><circle cx="49.9" cy="594.6" r="2.1"/><circle cx="78.0" cy="591.5" r="1.8"/><circle cx="83.4" cy="609.4" r="1.1"/><circle cx="76.0" cy="592.1" r="0.8"/><circle cx="63.9" cy="587.7" r="2.2"/><circle cx="57.6" cy="602.2" r="1.8"/><circle cx="65.9" cy="581.3" r="1.9"/><circle cx="65.8" cy="609.5" r="0.8"/><circle cx="70.7" cy="615.4" r="1.2"/><circle cx="53.8" cy="582.8" r="1.6"/><circle cx="52.4" cy="588.8" r="1.8"/><circle cx="77.3" cy="603.3" r="0.9"/><circle cx="64.3" cy="600.9" r="1.0"/><circle cx="58.6" cy="598.9" r="2.2"/><circle cx="63.8" cy="615.7" r="1.9"/><circle cx="73.9" cy="604.1" r="1.2"/><circle cx="61.2" cy="585.9" r="1.4"/><circle cx="81.0" cy="608.6" r="2.1"/><circle cx="72.6" cy="587.6" r="0.8"/><circle cx="69.1" cy="617.2" r="2.0"/><circle cx="57.4" cy="582.3" r="1.2"/><circle cx="67.2" cy="601.0" r="2.1"/><circle cx="61.5" cy="591.1" r="1.6"/><circle cx="73.5" cy="614.0" r="1.0"/><circle cx="73.4" cy="597.8" r="1.3"/><circle cx="51.0" cy="591.4" r="1.1"/><circle cx="72.3" cy="599.2" r="2.0"/><circle cx="74.3" cy="596.7" r="1.3"/><circle cx="77.7" cy="612.1" r="1.9"/><circle cx="58.9" cy="606.8" r="1.5"/><circle cx="66.4" cy="606.2" r="1.9"/><circle cx="57.8" cy="606.5" r="1.9"/></g>
<g fill="#4b5282" opacity="0.8"><circle cx="70.2" cy="609.2" r="0.6"/><circle cx="57.0" cy="609.1" r="0.9"/><circle cx="76.7" cy="587.5" r="0.4"/><circle cx="75.3" cy="583.7" r="0.6"/><circle cx="61.7" cy="600.5" r="0.5"/><circle cx="62.7" cy="584.0" r="0.5"/><circle cx="57.7" cy="599.7" r="0.5"/><circle cx="55.7" cy="602.8" r="0.5"/><circle cx="61.8" cy="604.0" r="0.8"/><circle cx="47.5" cy="591.9" r="0.5"/><circle cx="65.9" cy="587.4" r="0.8"/><circle cx="85.2" cy="594.1" r="1.0"/><circle cx="74.3" cy="595.7" r="0.8"/><circle cx="71.8" cy="608.8" r="1.0"/><circle cx="75.9" cy="604.1" r="0.6"/><circle cx="47.0" cy="603.4" r="0.9"/><circle cx="59.4" cy="600.7" r="0.6"/><circle cx="60.6" cy="589.3" r="0.7"/><circle cx="75.0" cy="597.7" r="0.8"/><circle cx="76.6" cy="599.3" r="0.9"/><circle cx="81.8" cy="601.0" r="0.8"/><circle cx="48.6" cy="594.4" r="0.6"/><circle cx="54.0" cy="589.1" r="0.9"/><circle cx="69.4" cy="589.7" r="1.1"/><circle cx="77.6" cy="584.4" r="0.7"/><circle cx="74.5" cy="616.5" r="0.6"/><circle cx="79.9" cy="588.9" r="0.5"/><circle cx="77.1" cy="601.1" r="0.7"/><circle cx="69.7" cy="607.3" r="1.0"/><circle cx="81.6" cy="592.5" r="0.7"/><circle cx="83.8" cy="600.0" r="1.1"/><circle cx="55.0" cy="600.2" r="0.8"/><circle cx="46.3" cy="599.6" r="1.1"/><circle cx="69.9" cy="615.2" r="1.0"/><circle cx="77.1" cy="598.6" r="0.7"/><circle cx="77.3" cy="595.9" r="0.6"/><circle cx="58.4" cy="610.5" r="0.9"/><circle cx="63.1" cy="601.8" r="0.5"/><circle cx="85.3" cy="598.6" r="0.9"/><circle cx="54.9" cy="602.0" r="0.8"/></g>
<circle cx="113.00" cy="598.60" r="21.70" fill="#6b7198" stroke="#444a78" stroke-width="1.3"/>
<g fill="#575c8c" opacity="0.55"><circle cx="124.4" cy="612.0" r="1.1"/><circle cx="120.7" cy="596.6" r="1.0"/><circle cx="104.7" cy="597.4" r="1.6"/><circle cx="131.2" cy="605.4" r="1.1"/><circle cx="105.1" cy="593.9" r="1.4"/><circle cx="123.5" cy="589.8" r="1.7"/><circle cx="131.5" cy="593.5" r="1.2"/><circle cx="96.3" cy="609.5" r="0.9"/><circle cx="128.6" cy="610.6" r="0.8"/><circle cx="110.2" cy="610.0" r="2.2"/><circle cx="96.1" cy="607.9" r="1.5"/><circle cx="119.7" cy="580.8" r="1.7"/><circle cx="124.3" cy="608.8" r="1.1"/><circle cx="98.5" cy="589.8" r="1.9"/><circle cx="132.0" cy="594.0" r="1.1"/><circle cx="118.1" cy="594.7" r="1.6"/><circle cx="109.6" cy="589.7" r="1.2"/><circle cx="105.8" cy="606.6" r="1.5"/><circle cx="128.4" cy="606.3" r="1.8"/><circle cx="96.7" cy="601.5" r="1.7"/><circle cx="131.5" cy="599.7" r="1.5"/><circle cx="108.6" cy="582.0" r="1.7"/><circle cx="122.2" cy="596.2" r="1.9"/><circle cx="103.4" cy="603.1" r="2.1"/><circle cx="104.5" cy="604.1" r="2.1"/><circle cx="115.1" cy="618.0" r="1.8"/><circle cx="106.3" cy="587.5" r="1.9"/><circle cx="114.4" cy="606.6" r="1.1"/><circle cx="124.0" cy="601.1" r="1.0"/><circle cx="101.0" cy="605.1" r="0.9"/><circle cx="128.0" cy="592.9" r="1.6"/><circle cx="109.4" cy="586.2" r="1.4"/><circle cx="103.7" cy="599.7" r="0.8"/><circle cx="122.1" cy="613.2" r="1.3"/><circle cx="115.1" cy="578.6" r="2.0"/><circle cx="101.9" cy="586.0" r="1.8"/><circle cx="119.7" cy="617.6" r="1.9"/><circle cx="112.6" cy="610.5" r="2.0"/><circle cx="122.6" cy="585.4" r="2.0"/><circle cx="118.2" cy="613.9" r="0.8"/><circle cx="110.6" cy="583.3" r="1.2"/><circle cx="119.2" cy="598.8" r="1.0"/><circle cx="130.4" cy="599.0" r="1.1"/><circle cx="110.3" cy="587.7" r="2.2"/><circle cx="115.6" cy="600.9" r="2.1"/><circle cx="125.0" cy="614.9" r="1.3"/><circle cx="106.5" cy="612.4" r="1.4"/><circle cx="112.2" cy="613.3" r="0.9"/><circle cx="116.5" cy="604.3" r="0.9"/><circle cx="107.5" cy="582.9" r="1.2"/><circle cx="110.5" cy="580.3" r="1.3"/><circle cx="118.6" cy="612.4" r="2.1"/><circle cx="128.0" cy="603.6" r="1.0"/><circle cx="99.9" cy="610.1" r="1.8"/><circle cx="116.1" cy="588.5" r="1.9"/><circle cx="106.9" cy="594.9" r="1.1"/><circle cx="118.8" cy="582.1" r="1.9"/><circle cx="121.8" cy="604.5" r="1.7"/><circle cx="123.2" cy="610.7" r="1.1"/><circle cx="125.5" cy="608.7" r="1.7"/><circle cx="112.4" cy="609.4" r="1.4"/><circle cx="110.5" cy="583.4" r="0.8"/><circle cx="116.2" cy="616.0" r="1.2"/><circle cx="106.9" cy="583.0" r="1.7"/><circle cx="118.5" cy="617.4" r="1.2"/><circle cx="111.8" cy="615.6" r="1.0"/><circle cx="114.4" cy="588.2" r="2.0"/><circle cx="130.1" cy="594.1" r="1.9"/><circle cx="108.2" cy="609.7" r="1.8"/><circle cx="108.7" cy="595.1" r="0.9"/><circle cx="107.7" cy="598.1" r="1.0"/><circle cx="127.2" cy="584.8" r="1.4"/><circle cx="120.2" cy="605.3" r="1.5"/><circle cx="103.0" cy="610.2" r="1.8"/><circle cx="115.4" cy="583.4" r="0.9"/><circle cx="108.3" cy="602.6" r="1.5"/><circle cx="107.6" cy="589.0" r="1.1"/><circle cx="100.9" cy="600.4" r="1.8"/><circle cx="100.4" cy="611.8" r="1.4"/><circle cx="131.1" cy="590.6" r="1.7"/><circle cx="105.9" cy="600.6" r="1.7"/><circle cx="124.2" cy="601.3" r="2.2"/><circle cx="126.5" cy="612.8" r="1.5"/><circle cx="107.9" cy="614.3" r="0.9"/><circle cx="115.3" cy="580.7" r="1.4"/><circle cx="107.7" cy="602.8" r="0.9"/><circle cx="132.1" cy="605.0" r="1.2"/><circle cx="125.0" cy="612.3" r="0.9"/><circle cx="116.2" cy="603.9" r="1.5"/><circle cx="122.2" cy="615.1" r="1.0"/><circle cx="96.8" cy="606.8" r="1.3"/><circle cx="113.4" cy="606.6" r="2.2"/><circle cx="112.5" cy="606.4" r="1.8"/><circle cx="129.1" cy="587.6" r="1.5"/><circle cx="97.1" cy="586.4" r="1.2"/><circle cx="109.9" cy="584.4" r="1.8"/><circle cx="115.8" cy="606.3" r="2.1"/><circle cx="115.9" cy="591.7" r="1.3"/><circle cx="112.6" cy="609.5" r="1.5"/><circle cx="125.2" cy="615.0" r="2.0"/><circle cx="118.7" cy="609.5" r="1.8"/><circle cx="117.8" cy="610.3" r="1.4"/><circle cx="125.2" cy="584.4" r="1.6"/><circle cx="113.2" cy="596.0" r="1.6"/><circle cx="131.7" cy="592.8" r="1.3"/><circle cx="121.0" cy="581.3" r="1.2"/><circle cx="103.8" cy="607.8" r="1.3"/><circle cx="123.2" cy="607.1" r="1.1"/><circle cx="96.4" cy="609.1" r="1.7"/><circle cx="113.7" cy="579.2" r="1.1"/><circle cx="119.6" cy="580.0" r="2.2"/><circle cx="113.5" cy="580.8" r="1.9"/><circle cx="106.8" cy="589.4" r="1.3"/><circle cx="125.7" cy="612.7" r="1.6"/><circle cx="118.4" cy="587.3" r="1.3"/><circle cx="124.0" cy="583.1" r="2.0"/><circle cx="120.8" cy="595.4" r="1.8"/><circle cx="103.1" cy="584.5" r="0.9"/><circle cx="94.6" cy="592.9" r="1.4"/><circle cx="115.6" cy="586.3" r="1.9"/><circle cx="117.3" cy="617.4" r="1.3"/><circle cx="121.9" cy="605.1" r="1.3"/><circle cx="114.1" cy="594.8" r="1.1"/><circle cx="118.7" cy="601.2" r="1.8"/><circle cx="103.4" cy="600.9" r="1.4"/><circle cx="130.8" cy="593.3" r="1.2"/><circle cx="126.2" cy="588.4" r="1.5"/><circle cx="111.0" cy="579.2" r="1.2"/><circle cx="95.7" cy="590.0" r="0.9"/><circle cx="120.7" cy="584.4" r="1.5"/><circle cx="100.2" cy="606.0" r="2.0"/><circle cx="117.5" cy="615.1" r="1.3"/><circle cx="125.6" cy="595.3" r="1.8"/><circle cx="119.9" cy="594.5" r="0.8"/><circle cx="98.3" cy="605.3" r="1.8"/><circle cx="124.7" cy="606.3" r="1.5"/><circle cx="117.5" cy="580.4" r="1.3"/><circle cx="112.7" cy="588.2" r="1.9"/><circle cx="120.7" cy="591.7" r="2.2"/><circle cx="102.7" cy="608.2" r="1.8"/></g>
<g fill="#3a3e7e" opacity="0.8"><circle cx="118.9" cy="617.6" r="0.6"/><circle cx="111.5" cy="585.5" r="0.5"/><circle cx="96.9" cy="598.6" r="0.9"/><circle cx="122.1" cy="596.1" r="1.1"/><circle cx="117.6" cy="583.0" r="0.5"/><circle cx="94.3" cy="592.3" r="1.0"/><circle cx="100.5" cy="613.4" r="1.1"/><circle cx="123.8" cy="600.2" r="0.8"/><circle cx="128.9" cy="587.1" r="1.1"/><circle cx="127.3" cy="592.2" r="0.8"/><circle cx="106.6" cy="591.7" r="1.0"/><circle cx="101.3" cy="589.9" r="0.6"/><circle cx="102.3" cy="604.5" r="0.8"/><circle cx="125.7" cy="606.9" r="0.4"/><circle cx="110.3" cy="585.6" r="1.0"/><circle cx="112.6" cy="610.1" r="0.8"/><circle cx="104.8" cy="592.4" r="1.1"/><circle cx="103.7" cy="593.1" r="0.9"/><circle cx="108.7" cy="580.9" r="0.9"/><circle cx="119.4" cy="588.2" r="1.1"/><circle cx="118.9" cy="596.4" r="0.7"/><circle cx="120.0" cy="601.9" r="1.0"/><circle cx="124.0" cy="612.3" r="0.7"/><circle cx="130.1" cy="598.3" r="0.7"/><circle cx="113.6" cy="617.0" r="0.5"/><circle cx="104.7" cy="603.9" r="0.9"/><circle cx="119.7" cy="609.4" r="0.6"/><circle cx="115.7" cy="605.8" r="0.6"/><circle cx="119.3" cy="612.9" r="0.8"/><circle cx="127.5" cy="596.1" r="0.8"/><circle cx="93.3" cy="602.2" r="0.5"/><circle cx="123.2" cy="611.7" r="0.5"/><circle cx="110.8" cy="591.7" r="1.1"/><circle cx="104.3" cy="609.9" r="0.7"/><circle cx="108.1" cy="586.0" r="0.7"/><circle cx="119.4" cy="591.3" r="0.8"/><circle cx="114.6" cy="596.4" r="0.9"/><circle cx="103.7" cy="588.7" r="1.1"/><circle cx="100.0" cy="604.5" r="0.6"/><circle cx="104.6" cy="584.8" r="1.0"/><circle cx="125.3" cy="614.5" r="0.7"/><circle cx="117.9" cy="580.0" r="0.8"/><circle cx="103.6" cy="613.4" r="1.1"/><circle cx="99.8" cy="607.9" r="0.5"/><circle cx="119.9" cy="593.4" r="1.0"/><circle cx="110.9" cy="602.9" r="0.8"/><circle cx="102.9" cy="610.3" r="1.1"/><circle cx="99.8" cy="595.9" r="1.1"/><circle cx="96.0" cy="601.1" r="0.6"/><circle cx="102.1" cy="589.7" r="1.0"/><circle cx="104.8" cy="607.3" r="0.7"/><circle cx="124.7" cy="591.5" r="0.8"/><circle cx="106.9" cy="609.2" r="1.0"/><circle cx="109.4" cy="589.4" r="0.4"/><circle cx="122.9" cy="602.5" r="1.0"/><circle cx="114.3" cy="608.0" r="0.4"/><circle cx="111.7" cy="586.6" r="0.9"/><circle cx="131.7" cy="592.1" r="0.8"/><circle cx="129.8" cy="609.2" r="1.1"/><circle cx="118.2" cy="612.3" r="1.0"/><circle cx="98.5" cy="611.3" r="0.5"/><circle cx="113.4" cy="579.2" r="0.8"/><circle cx="132.7" cy="603.4" r="0.4"/><circle cx="121.8" cy="599.8" r="0.9"/><circle cx="126.0" cy="609.7" r="0.5"/><circle cx="105.0" cy="592.0" r="0.9"/><circle cx="100.0" cy="614.1" r="1.1"/><circle cx="101.6" cy="607.9" r="0.6"/><circle cx="124.3" cy="596.8" r="1.1"/><circle cx="121.1" cy="614.5" r="0.5"/><circle cx="107.3" cy="606.4" r="1.0"/><circle cx="106.5" cy="597.4" r="0.9"/><circle cx="108.1" cy="600.6" r="1.0"/><circle cx="97.3" cy="603.5" r="1.1"/><circle cx="104.3" cy="612.9" r="0.7"/><circle cx="125.7" cy="583.1" r="1.1"/><circle cx="123.2" cy="611.3" r="0.5"/><circle cx="107.9" cy="585.6" r="0.4"/><circle cx="117.2" cy="580.3" r="0.8"/><circle cx="113.8" cy="596.1" r="0.7"/><circle cx="97.2" cy="591.2" r="0.9"/><circle cx="126.9" cy="595.0" r="1.1"/><circle cx="98.1" cy="585.4" r="0.6"/><circle cx="111.4" cy="612.4" r="1.1"/><circle cx="117.4" cy="580.5" r="1.0"/><circle cx="105.2" cy="579.7" r="0.6"/><circle cx="111.6" cy="616.9" r="0.9"/><circle cx="119.1" cy="590.9" r="0.8"/><circle cx="123.8" cy="592.9" r="0.5"/><circle cx="113.9" cy="578.7" r="0.5"/><circle cx="96.5" cy="590.4" r="1.1"/><circle cx="98.1" cy="605.9" r="1.1"/><circle cx="114.3" cy="591.0" r="0.5"/><circle cx="122.3" cy="606.6" r="1.1"/><circle cx="110.8" cy="584.0" r="0.6"/><circle cx="102.3" cy="584.1" r="0.5"/><circle cx="110.3" cy="583.4" r="0.6"/><circle cx="110.0" cy="615.6" r="0.7"/><circle cx="131.6" cy="591.7" r="1.1"/><circle cx="99.9" cy="592.2" r="1.0"/></g>
<circle cx="160.50" cy="598.60" r="21.70" fill="#6e7399" stroke="#343772" stroke-width="1.3"/>
<g fill="#575b8e" opacity="0.55"><circle cx="143.1" cy="603.5" r="2.0"/><circle cx="173.4" cy="594.4" r="1.5"/><circle cx="160.5" cy="590.7" r="1.0"/><circle cx="176.8" cy="604.3" r="2.2"/><circle cx="159.6" cy="583.1" r="1.0"/><circle cx="148.6" cy="610.3" r="1.1"/><circle cx="178.8" cy="602.5" r="1.5"/><circle cx="164.6" cy="593.1" r="2.1"/><circle cx="156.1" cy="599.6" r="1.5"/><circle cx="158.2" cy="581.1" r="1.3"/><circle cx="168.4" cy="616.8" r="1.0"/><circle cx="174.1" cy="611.4" r="1.1"/><circle cx="152.8" cy="611.5" r="1.0"/><circle cx="140.9" cy="601.8" r="1.9"/><circle cx="169.9" cy="592.9" r="1.1"/><circle cx="145.6" cy="585.8" r="2.2"/><circle cx="148.1" cy="585.2" r="1.5"/><circle cx="142.6" cy="605.2" r="0.9"/><circle cx="167.2" cy="580.1" r="1.8"/><circle cx="162.5" cy="616.4" r="1.4"/><circle cx="178.7" cy="594.2" r="2.1"/><circle cx="156.9" cy="590.4" r="1.6"/><circle cx="167.2" cy="610.5" r="1.0"/><circle cx="145.9" cy="599.2" r="1.2"/><circle cx="148.2" cy="594.2" r="1.9"/><circle cx="169.0" cy="612.4" r="2.0"/><circle cx="173.2" cy="595.3" r="2.2"/><circle cx="153.1" cy="594.4" r="2.2"/><circle cx="147.7" cy="594.7" r="1.2"/><circle cx="161.7" cy="602.6" r="1.0"/><circle cx="152.5" cy="590.1" r="1.6"/><circle cx="152.6" cy="580.2" r="1.3"/><circle cx="147.2" cy="583.7" r="1.6"/><circle cx="151.2" cy="581.8" r="1.3"/><circle cx="155.4" cy="614.1" r="2.2"/><circle cx="171.2" cy="596.8" r="0.9"/><circle cx="158.1" cy="597.8" r="1.1"/><circle cx="171.6" cy="608.8" r="2.0"/><circle cx="153.6" cy="582.9" r="2.1"/><circle cx="151.6" cy="580.2" r="1.8"/><circle cx="161.6" cy="599.0" r="1.4"/><circle cx="152.7" cy="617.2" r="1.6"/><circle cx="158.4" cy="599.8" r="2.1"/><circle cx="167.8" cy="584.2" r="0.8"/><circle cx="164.8" cy="607.6" r="2.0"/><circle cx="167.2" cy="595.6" r="1.2"/><circle cx="141.2" cy="596.7" r="1.3"/><circle cx="143.8" cy="609.9" r="1.8"/><circle cx="163.4" cy="593.3" r="2.2"/><circle cx="160.3" cy="591.0" r="1.2"/><circle cx="154.8" cy="605.1" r="1.7"/><circle cx="180.6" cy="597.8" r="2.2"/><circle cx="151.1" cy="585.0" r="1.0"/><circle cx="143.7" cy="593.0" r="1.3"/><circle cx="159.9" cy="618.1" r="1.0"/><circle cx="165.8" cy="605.8" r="1.6"/><circle cx="170.4" cy="614.3" r="1.5"/><circle cx="145.7" cy="592.7" r="1.4"/><circle cx="176.0" cy="600.1" r="0.9"/><circle cx="161.7" cy="612.5" r="1.9"/><circle cx="165.4" cy="588.9" r="1.1"/><circle cx="153.5" cy="599.6" r="1.3"/><circle cx="161.7" cy="586.1" r="1.1"/><circle cx="169.2" cy="583.8" r="1.4"/><circle cx="173.8" cy="591.7" r="1.6"/><circle cx="169.1" cy="602.6" r="0.9"/><circle cx="171.1" cy="605.2" r="1.7"/><circle cx="155.5" cy="611.6" r="1.5"/><circle cx="161.2" cy="618.5" r="1.0"/><circle cx="155.1" cy="609.3" r="2.1"/><circle cx="144.7" cy="606.2" r="1.0"/><circle cx="164.2" cy="602.1" r="2.0"/><circle cx="169.8" cy="612.6" r="1.7"/><circle cx="154.8" cy="598.4" r="1.3"/><circle cx="160.2" cy="591.3" r="1.8"/><circle cx="168.0" cy="611.8" r="1.7"/><circle cx="153.1" cy="586.7" r="0.9"/><circle cx="180.1" cy="599.0" r="1.1"/><circle cx="164.8" cy="611.4" r="0.9"/><circle cx="177.8" cy="597.9" r="1.3"/><circle cx="155.1" cy="588.7" r="1.1"/><circle cx="155.4" cy="586.0" r="1.4"/><circle cx="168.5" cy="602.4" r="1.6"/><circle cx="178.4" cy="588.8" r="0.9"/><circle cx="145.5" cy="599.7" r="1.1"/><circle cx="143.4" cy="599.1" r="1.9"/><circle cx="171.3" cy="593.8" r="1.9"/><circle cx="169.7" cy="610.0" r="1.5"/><circle cx="157.3" cy="591.2" r="1.8"/><circle cx="176.3" cy="596.2" r="0.9"/><circle cx="166.0" cy="581.9" r="1.0"/><circle cx="172.1" cy="602.7" r="1.6"/><circle cx="150.3" cy="613.1" r="1.8"/><circle cx="157.4" cy="585.9" r="1.2"/><circle cx="141.7" cy="606.3" r="0.8"/><circle cx="159.5" cy="591.7" r="2.0"/><circle cx="169.9" cy="612.5" r="2.0"/><circle cx="173.7" cy="610.3" r="1.3"/><circle cx="177.6" cy="599.0" r="0.9"/><circle cx="169.6" cy="589.5" r="2.2"/><circle cx="170.8" cy="592.0" r="1.9"/><circle cx="144.2" cy="588.5" r="2.2"/><circle cx="176.4" cy="593.2" r="1.6"/><circle cx="150.7" cy="597.4" r="1.5"/><circle cx="151.7" cy="607.6" r="1.5"/><circle cx="163.3" cy="614.5" r="1.2"/><circle cx="145.5" cy="598.2" r="1.4"/><circle cx="167.2" cy="614.3" r="1.5"/><circle cx="161.9" cy="587.2" r="1.8"/><circle cx="142.3" cy="596.6" r="1.1"/><circle cx="140.7" cy="597.3" r="1.3"/><circle cx="150.9" cy="605.4" r="1.8"/><circle cx="141.9" cy="600.6" r="1.8"/><circle cx="150.7" cy="601.6" r="1.3"/><circle cx="152.9" cy="607.9" r="1.9"/><circle cx="165.2" cy="615.8" r="1.1"/><circle cx="150.1" cy="583.4" r="1.7"/><circle cx="154.7" cy="582.9" r="1.2"/><circle cx="156.8" cy="603.1" r="0.8"/><circle cx="140.6" cy="595.5" r="1.7"/><circle cx="167.3" cy="579.6" r="1.1"/><circle cx="170.3" cy="606.5" r="1.9"/><circle cx="142.7" cy="600.0" r="1.3"/><circle cx="149.2" cy="599.5" r="1.8"/><circle cx="171.8" cy="582.7" r="2.0"/><circle cx="148.0" cy="605.3" r="1.2"/><circle cx="168.7" cy="617.1" r="1.0"/><circle cx="170.7" cy="593.2" r="2.0"/><circle cx="167.9" cy="588.6" r="2.0"/><circle cx="165.5" cy="611.7" r="1.9"/><circle cx="170.1" cy="607.6" r="2.1"/><circle cx="149.2" cy="607.1" r="1.6"/><circle cx="171.5" cy="600.0" r="1.3"/><circle cx="173.7" cy="599.5" r="1.3"/><circle cx="151.5" cy="614.3" r="1.8"/><circle cx="166.8" cy="614.0" r="0.8"/><circle cx="147.3" cy="587.6" r="1.2"/><circle cx="166.6" cy="590.8" r="2.1"/><circle cx="151.4" cy="593.1" r="1.6"/><circle cx="172.5" cy="601.4" r="1.3"/><circle cx="147.0" cy="588.5" r="1.5"/><circle cx="162.3" cy="606.3" r="1.2"/><circle cx="151.5" cy="609.1" r="2.1"/><circle cx="168.2" cy="597.9" r="1.1"/><circle cx="161.3" cy="617.7" r="1.6"/><circle cx="173.3" cy="601.7" r="1.9"/><circle cx="158.3" cy="617.1" r="1.9"/><circle cx="175.2" cy="597.4" r="0.9"/><circle cx="162.3" cy="611.7" r="1.7"/><circle cx="170.5" cy="583.3" r="1.6"/><circle cx="164.6" cy="585.9" r="0.9"/><circle cx="160.7" cy="587.4" r="1.4"/><circle cx="177.7" cy="609.7" r="1.4"/><circle cx="170.7" cy="598.7" r="0.9"/><circle cx="155.8" cy="603.7" r="1.4"/><circle cx="156.8" cy="613.3" r="1.8"/><circle cx="175.6" cy="596.9" r="1.0"/><circle cx="145.4" cy="599.2" r="1.3"/><circle cx="165.3" cy="617.2" r="2.0"/><circle cx="153.9" cy="609.7" r="1.7"/><circle cx="157.1" cy="614.1" r="0.9"/><circle cx="146.8" cy="613.3" r="1.0"/><circle cx="143.9" cy="595.2" r="1.3"/><circle cx="167.5" cy="588.3" r="1.3"/><circle cx="173.8" cy="594.9" r="1.3"/><circle cx="167.6" cy="610.2" r="1.7"/><circle cx="144.4" cy="604.2" r="1.4"/><circle cx="163.1" cy="588.3" r="1.4"/><circle cx="147.2" cy="611.9" r="1.8"/><circle cx="161.3" cy="602.7" r="2.1"/></g>
<g fill="#383b80" opacity="0.8"><circle cx="152.6" cy="582.9" r="0.6"/><circle cx="165.4" cy="613.0" r="0.5"/><circle cx="154.6" cy="582.5" r="0.5"/><circle cx="171.8" cy="611.6" r="0.7"/><circle cx="150.4" cy="598.0" r="0.5"/><circle cx="171.3" cy="610.6" r="0.6"/><circle cx="171.7" cy="611.3" r="0.5"/><circle cx="143.7" cy="593.6" r="0.7"/><circle cx="143.8" cy="590.5" r="0.5"/><circle cx="167.6" cy="585.6" r="0.7"/><circle cx="148.5" cy="612.4" r="0.6"/><circle cx="169.4" cy="580.4" r="0.7"/><circle cx="154.1" cy="593.2" r="0.4"/><circle cx="180.1" cy="595.1" r="0.7"/><circle cx="167.4" cy="588.6" r="0.5"/><circle cx="141.7" cy="596.1" r="0.4"/><circle cx="142.3" cy="605.8" r="0.8"/><circle cx="143.2" cy="595.0" r="0.8"/><circle cx="169.2" cy="592.2" r="0.6"/><circle cx="158.0" cy="602.7" r="0.4"/><circle cx="155.4" cy="593.6" r="0.5"/><circle cx="157.9" cy="608.1" r="0.5"/><circle cx="176.9" cy="587.5" r="0.8"/><circle cx="141.5" cy="606.1" r="0.8"/><circle cx="171.5" cy="593.1" r="0.8"/><circle cx="163.0" cy="616.5" r="0.4"/><circle cx="141.7" cy="592.2" r="0.7"/><circle cx="172.5" cy="613.8" r="0.7"/><circle cx="163.9" cy="583.9" r="0.6"/><circle cx="170.8" cy="595.7" r="0.5"/><circle cx="169.4" cy="582.7" r="0.5"/><circle cx="146.4" cy="609.4" r="0.5"/><circle cx="171.2" cy="595.4" r="0.6"/><circle cx="144.8" cy="598.5" r="0.4"/><circle cx="159.9" cy="580.3" r="0.8"/><circle cx="163.9" cy="611.7" r="0.6"/><circle cx="150.6" cy="583.4" r="0.6"/><circle cx="169.5" cy="611.6" r="0.8"/><circle cx="145.3" cy="598.0" r="0.8"/><circle cx="158.7" cy="588.0" r="0.6"/><circle cx="176.1" cy="609.1" r="0.5"/><circle cx="143.5" cy="600.5" r="0.6"/><circle cx="163.8" cy="614.7" r="0.6"/><circle cx="161.0" cy="597.0" r="0.5"/><circle cx="142.5" cy="592.5" r="0.7"/><circle cx="172.5" cy="610.7" r="0.7"/><circle cx="168.7" cy="589.1" r="0.8"/><circle cx="167.5" cy="582.5" r="0.6"/><circle cx="177.2" cy="593.5" r="0.5"/><circle cx="153.5" cy="602.9" r="0.6"/><circle cx="162.2" cy="608.0" r="0.8"/><circle cx="168.8" cy="609.9" r="0.5"/><circle cx="166.6" cy="613.9" r="0.6"/><circle cx="145.6" cy="604.5" r="0.6"/><circle cx="179.5" cy="600.6" r="0.8"/><circle cx="170.9" cy="601.2" r="0.7"/><circle cx="144.6" cy="594.7" r="0.5"/><circle cx="154.1" cy="616.0" r="0.7"/><circle cx="150.3" cy="593.6" r="0.7"/><circle cx="146.8" cy="600.3" r="0.4"/><circle cx="154.3" cy="582.6" r="0.5"/><circle cx="158.8" cy="582.5" r="0.4"/><circle cx="173.6" cy="584.7" r="0.4"/><circle cx="170.6" cy="604.5" r="0.5"/><circle cx="152.8" cy="599.1" r="0.5"/><circle cx="148.2" cy="601.6" r="0.6"/><circle cx="157.3" cy="580.2" r="0.5"/><circle cx="171.7" cy="599.2" r="0.5"/><circle cx="157.8" cy="590.6" r="0.8"/><circle cx="165.7" cy="618.4" r="0.4"/><circle cx="144.9" cy="608.3" r="0.8"/><circle cx="155.1" cy="611.6" r="0.4"/><circle cx="140.5" cy="597.1" r="0.6"/><circle cx="162.2" cy="584.0" r="0.8"/><circle cx="167.1" cy="612.3" r="0.6"/><circle cx="144.1" cy="609.3" r="0.7"/><circle cx="144.7" cy="602.5" r="0.7"/><circle cx="149.6" cy="594.5" r="0.8"/><circle cx="155.4" cy="604.1" r="0.8"/><circle cx="180.7" cy="600.3" r="0.7"/><circle cx="169.9" cy="584.4" r="0.6"/><circle cx="157.7" cy="607.2" r="0.7"/><circle cx="165.6" cy="615.9" r="0.7"/><circle cx="151.0" cy="584.1" r="0.4"/><circle cx="153.8" cy="611.8" r="0.7"/><circle cx="169.7" cy="608.2" r="0.7"/><circle cx="163.6" cy="586.6" r="0.5"/><circle cx="166.2" cy="583.6" r="0.5"/><circle cx="177.0" cy="606.1" r="0.8"/><circle cx="159.7" cy="594.0" r="0.6"/><circle cx="152.3" cy="604.9" r="0.6"/><circle cx="170.9" cy="608.6" r="0.6"/><circle cx="172.9" cy="596.0" r="0.6"/><circle cx="162.5" cy="613.2" r="0.8"/><circle cx="152.6" cy="588.2" r="0.8"/><circle cx="161.0" cy="584.5" r="0.5"/><circle cx="168.7" cy="600.8" r="0.6"/><circle cx="166.1" cy="617.2" r="0.6"/><circle cx="157.5" cy="616.7" r="0.5"/><circle cx="146.4" cy="605.7" r="0.8"/><circle cx="162.0" cy="618.2" r="0.7"/><circle cx="174.6" cy="601.6" r="0.6"/><circle cx="154.1" cy="617.3" r="0.7"/><circle cx="177.0" cy="605.5" r="0.8"/><circle cx="157.8" cy="606.6" r="0.7"/><circle cx="157.5" cy="601.6" r="0.5"/><circle cx="175.6" cy="600.1" r="0.5"/><circle cx="170.3" cy="604.1" r="0.4"/><circle cx="149.9" cy="597.4" r="0.5"/><circle cx="144.1" cy="608.1" r="0.5"/><circle cx="166.7" cy="588.8" r="0.4"/><circle cx="175.4" cy="609.1" r="0.8"/><circle cx="148.8" cy="590.4" r="0.8"/><circle cx="168.0" cy="601.8" r="0.7"/><circle cx="157.5" cy="582.3" r="0.5"/><circle cx="166.5" cy="612.9" r="0.6"/><circle cx="149.9" cy="592.3" r="0.5"/><circle cx="152.9" cy="589.1" r="0.4"/><circle cx="141.7" cy="599.1" r="0.5"/><circle cx="151.9" cy="598.1" r="0.6"/><circle cx="147.9" cy="611.4" r="0.6"/><circle cx="157.6" cy="618.0" r="0.8"/><circle cx="180.1" cy="597.4" r="0.8"/><circle cx="165.2" cy="587.7" r="0.7"/><circle cx="171.4" cy="598.4" r="0.7"/><circle cx="142.9" cy="591.9" r="0.4"/><circle cx="169.2" cy="615.8" r="0.5"/><circle cx="166.3" cy="614.5" r="0.6"/><circle cx="175.3" cy="608.8" r="0.7"/><circle cx="152.3" cy="599.9" r="0.7"/><circle cx="177.5" cy="603.3" r="0.5"/><circle cx="144.9" cy="611.4" r="0.6"/><circle cx="155.9" cy="585.5" r="0.7"/><circle cx="146.4" cy="608.5" r="0.7"/><circle cx="166.5" cy="613.1" r="0.8"/><circle cx="164.0" cy="578.7" r="0.8"/><circle cx="168.5" cy="585.8" r="0.5"/><circle cx="156.5" cy="580.8" r="0.8"/><circle cx="174.3" cy="585.5" r="0.5"/><circle cx="142.1" cy="601.5" r="0.5"/><circle cx="164.7" cy="585.5" r="0.8"/><circle cx="151.2" cy="581.8" r="0.5"/><circle cx="151.6" cy="594.6" r="0.5"/><circle cx="171.1" cy="606.6" r="0.5"/><circle cx="163.5" cy="616.3" r="0.8"/><circle cx="168.1" cy="587.9" r="0.5"/><circle cx="150.9" cy="606.0" r="0.4"/><circle cx="149.8" cy="608.7" r="0.4"/><circle cx="146.8" cy="612.2" r="0.4"/><circle cx="163.2" cy="618.6" r="0.5"/><circle cx="164.3" cy="601.3" r="0.7"/><circle cx="144.0" cy="598.2" r="0.5"/><circle cx="172.7" cy="596.3" r="0.6"/><circle cx="176.0" cy="585.3" r="0.5"/><circle cx="179.5" cy="601.1" r="0.7"/><circle cx="154.2" cy="580.9" r="0.6"/><circle cx="171.2" cy="614.2" r="0.6"/><circle cx="150.8" cy="605.7" r="0.5"/><circle cx="144.5" cy="590.7" r="0.8"/><circle cx="146.7" cy="588.7" r="0.8"/><circle cx="143.3" cy="590.9" r="0.5"/><circle cx="146.8" cy="613.0" r="0.4"/><circle cx="156.9" cy="585.9" r="0.8"/><circle cx="151.5" cy="583.9" r="0.8"/><circle cx="143.0" cy="604.8" r="0.6"/><circle cx="152.9" cy="615.3" r="0.4"/><circle cx="166.6" cy="582.8" r="0.5"/><circle cx="174.2" cy="587.6" r="0.5"/><circle cx="151.3" cy="599.0" r="0.6"/><circle cx="180.6" cy="598.2" r="0.6"/><circle cx="147.9" cy="584.8" r="0.5"/><circle cx="169.8" cy="616.6" r="0.4"/><circle cx="175.3" cy="600.3" r="0.6"/><circle cx="174.3" cy="594.5" r="0.6"/><circle cx="164.1" cy="579.7" r="0.7"/><circle cx="156.6" cy="609.5" r="0.6"/><circle cx="151.9" cy="587.4" r="0.6"/><circle cx="150.3" cy="590.5" r="0.8"/><circle cx="155.0" cy="607.9" r="0.4"/><circle cx="168.0" cy="601.3" r="0.6"/><circle cx="154.3" cy="580.5" r="0.8"/><circle cx="144.1" cy="588.8" r="0.7"/><circle cx="157.9" cy="601.0" r="0.5"/><circle cx="176.0" cy="605.4" r="0.6"/><circle cx="146.7" cy="599.3" r="0.6"/><circle cx="159.5" cy="590.4" r="0.8"/><circle cx="173.0" cy="609.7" r="0.7"/><circle cx="179.8" cy="597.0" r="0.7"/><circle cx="164.8" cy="594.5" r="0.7"/><circle cx="171.2" cy="592.7" r="0.8"/><circle cx="160.8" cy="618.2" r="0.7"/><circle cx="156.5" cy="611.9" r="0.7"/><circle cx="152.2" cy="613.3" r="0.6"/><circle cx="142.3" cy="590.5" r="0.8"/><circle cx="176.8" cy="597.8" r="0.4"/><circle cx="146.3" cy="593.8" r="0.7"/><circle cx="146.0" cy="584.4" r="0.6"/><circle cx="143.8" cy="595.0" r="0.7"/><circle cx="180.5" cy="600.4" r="0.5"/><circle cx="178.6" cy="605.7" r="0.8"/></g>
<circle cx="208.30" cy="598.60" r="21.70" fill="#76888c" stroke="#5c6c72" stroke-width="1.3"/>
<line x1="289.00" y1="524.50" x2="289.00" y2="615.90" stroke="#1b1b1b" stroke-width="1.4" stroke-linecap="butt"/>
<line x1="288.30" y1="615.10" x2="425.00" y2="615.10" stroke="#1b1b1b" stroke-width="1.4" stroke-linecap="butt"/>
<line x1="286.40" y1="615.10" x2="289.00" y2="615.10" stroke="#1b1b1b" stroke-width="1.1" stroke-linecap="butt"/>
<text x="285.60" y="617.40" font-size="6.6" font-weight="bold" text-anchor="end" fill="#1b1b1b">0</text>
<line x1="286.40" y1="580.60" x2="289.00" y2="580.60" stroke="#1b1b1b" stroke-width="1.1" stroke-linecap="butt"/>
<text x="285.60" y="582.90" font-size="6.6" font-weight="bold" text-anchor="end" fill="#1b1b1b">50</text>
<line x1="286.40" y1="546.10" x2="289.00" y2="546.10" stroke="#1b1b1b" stroke-width="1.1" stroke-linecap="butt"/>
<text x="285.60" y="548.40" font-size="6.6" font-weight="bold" text-anchor="end" fill="#1b1b1b">100</text>
<line x1="309.60" y1="546.10" x2="309.60" y2="541.27" stroke="#333" stroke-width="1.0" stroke-linecap="butt"/>
<line x1="303.80" y1="541.27" x2="315.40" y2="541.27" stroke="#333" stroke-width="1.0" stroke-linecap="butt"/>
<rect x="299.30" y="546.10" width="20.60" height="69.00" fill="#fff" stroke="#222" stroke-width="1.0"/>
<line x1="309.60" y1="615.10" x2="309.60" y2="618.10" stroke="#1b1b1b" stroke-width="1.1" stroke-linecap="butt"/>
<line x1="341.00" y1="557.83" x2="341.00" y2="557.83" stroke="#333" stroke-width="1.0" stroke-linecap="butt"/>
<rect x="330.70" y="557.83" width="20.60" height="57.27" fill="url(#hs)" stroke="#222" stroke-width="1.0"/>
<line x1="341.00" y1="615.10" x2="341.00" y2="618.10" stroke="#1b1b1b" stroke-width="1.1" stroke-linecap="butt"/>
<line x1="372.40" y1="552.31" x2="372.40" y2="549.96" stroke="#333" stroke-width="1.0" stroke-linecap="butt"/>
<line x1="366.60" y1="549.96" x2="378.20" y2="549.96" stroke="#333" stroke-width="1.0" stroke-linecap="butt"/>
<rect x="362.10" y="552.31" width="20.60" height="62.79" fill="url(#ds2)" stroke="#222" stroke-width="1.0"/>
<line x1="372.40" y1="615.10" x2="372.40" y2="618.10" stroke="#1b1b1b" stroke-width="1.1" stroke-linecap="butt"/>
<line x1="403.30" y1="605.85" x2="403.30" y2="604.06" stroke="#333" stroke-width="1.0" stroke-linecap="butt"/>
<line x1="397.50" y1="604.06" x2="409.10" y2="604.06" stroke="#333" stroke-width="1.0" stroke-linecap="butt"/>
<rect x="393.00" y="605.85" width="20.60" height="9.25" fill="#211a24" stroke="#222" stroke-width="1.0"/>
<line x1="403.30" y1="615.10" x2="403.30" y2="618.10" stroke="#1b1b1b" stroke-width="1.1" stroke-linecap="butt"/>
<polyline points="309.7,541.3 309.7,534.2 403.5,534.2 403.5,595.5" fill="none" stroke="#444" stroke-width="0.9"/>
<text x="353.30" y="535.60" font-size="10" font-weight="bold" text-anchor="middle" fill="#1b1b1b">*</text>
<text x="356.70" y="513.20" font-size="8.5" font-weight="bold" text-anchor="middle" fill="#1b1b1b">1975OR</text>
<text x="262.80" y="570.00" font-size="6.2" font-weight="bold" text-anchor="middle" fill="#1b1b1b" transform="rotate(-90 262.80 570.00)" letter-spacing="0.3">Number of colonies</text>
<text x="271.00" y="570.00" font-size="6.2" font-weight="bold" text-anchor="middle" fill="#1b1b1b" transform="rotate(-90 271.00 570.00)" letter-spacing="0.3">(% control)</text>
<text x="312.50" y="623.60" font-size="6.9" font-weight="bold" text-anchor="end" fill="#1b1b1b" transform="rotate(-45 312.50 623.60)">Control</text>
<text x="343.90" y="623.60" font-size="6.9" font-weight="bold" text-anchor="end" fill="#1b1b1b" transform="rotate(-45 343.90 623.60)">NGI-1</text>
<text x="375.30" y="623.60" font-size="6.9" font-weight="bold" text-anchor="end" fill="#1b1b1b" transform="rotate(-45 375.30 623.60)">Osimertinib</text>
<text x="406.20" y="623.60" font-size="6.9" font-weight="bold" text-anchor="end" fill="#1b1b1b" transform="rotate(-45 406.20 623.60)">NGI-1+Erlotinib</text></svg>
</body></html>
